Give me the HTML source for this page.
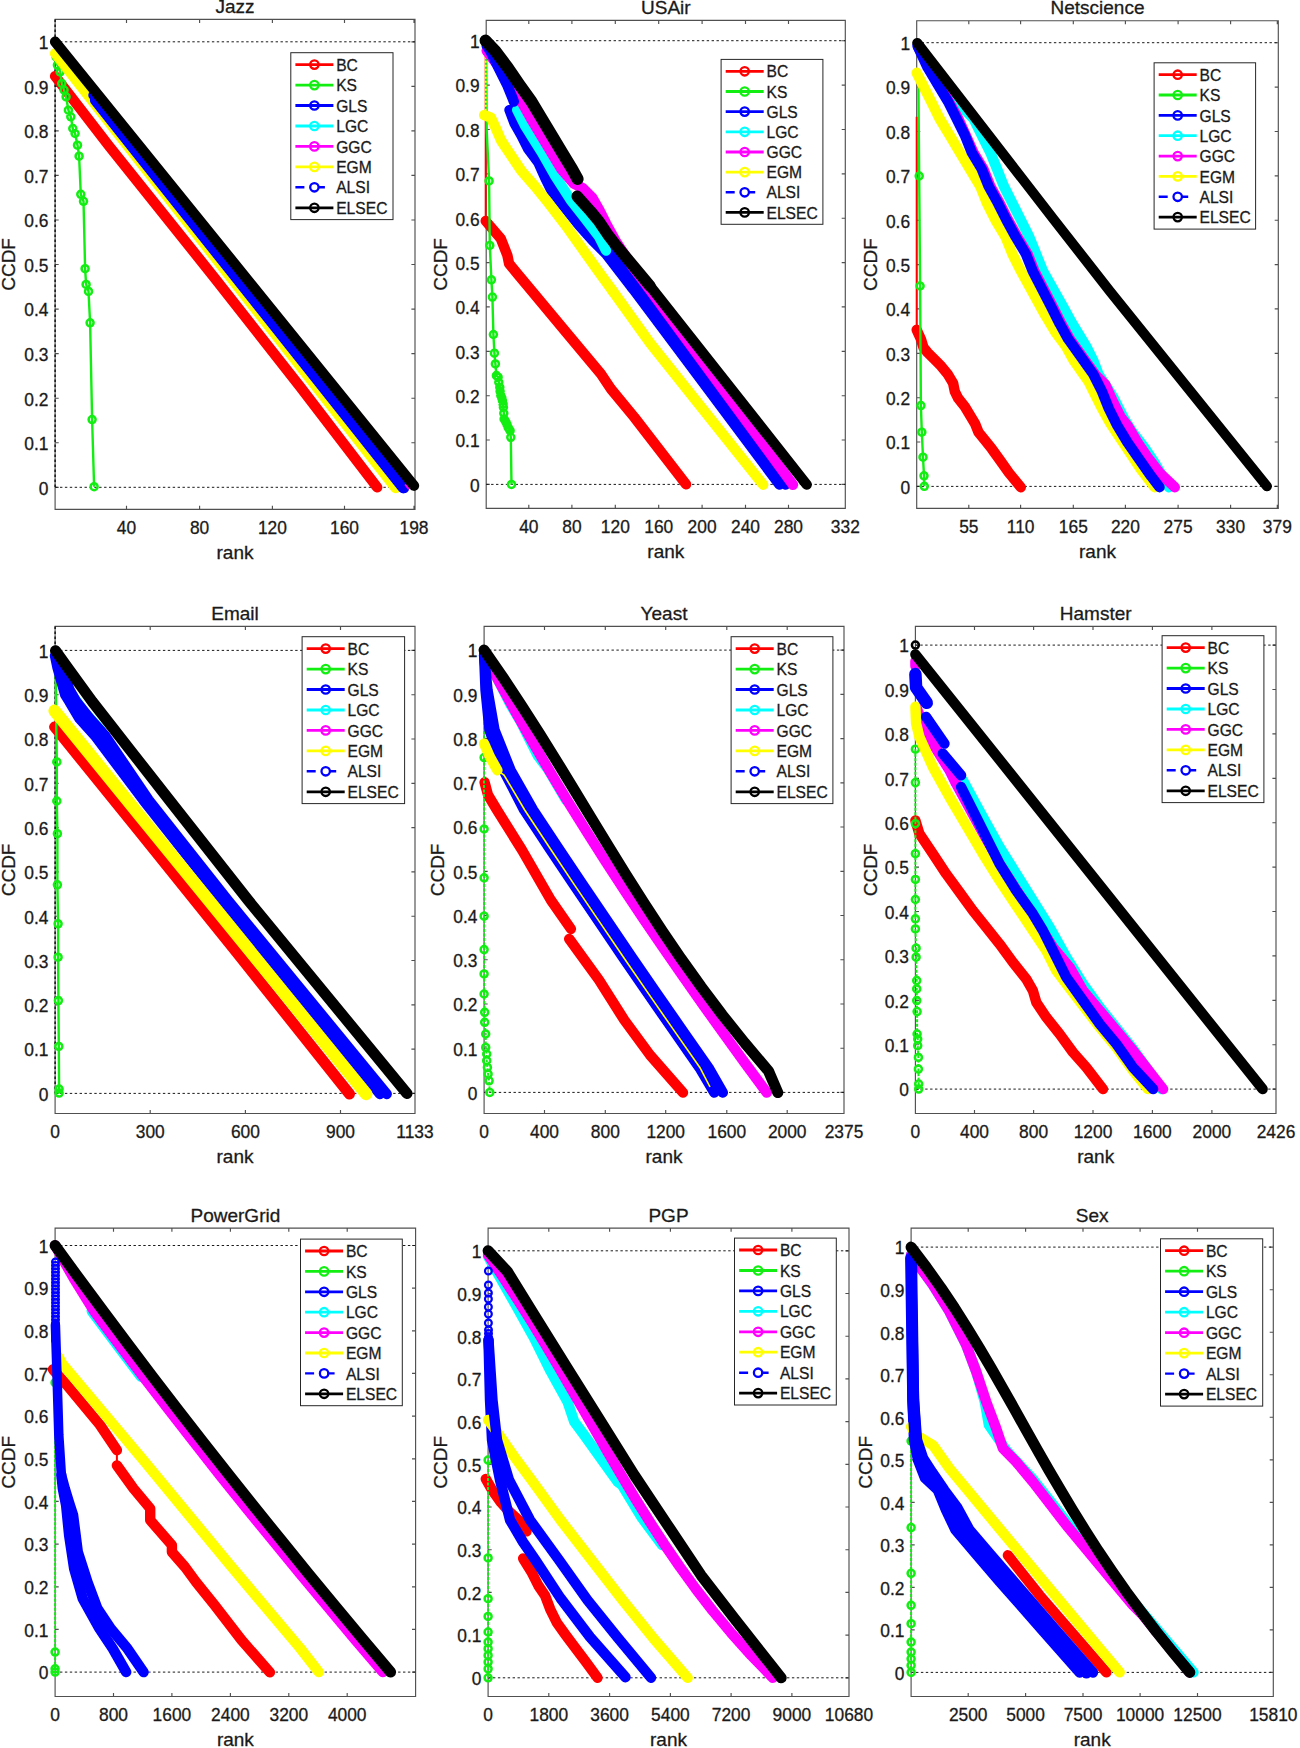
<!DOCTYPE html>
<html lang="en"><head><meta charset="utf-8"><title>CCDF of ranking methods on nine networks</title>
<style>
html,body{margin:0;padding:0;background:#fff}
svg{display:block}
text{font-family:"Liberation Sans",Arial,Helvetica,sans-serif;fill:#1a1a1a;stroke:#1a1a1a;stroke-width:0.3px}
.t{font-size:18.2px}.l{font-size:19px}.g{font-size:16.8px}
.m{text-anchor:middle}.e{text-anchor:end}
.ax{fill:none;stroke:#505050;stroke-width:1.15}
.dt{fill:none;stroke:#1a1a1a;stroke-width:1;stroke-dasharray:2.4 2.5}
.dv{fill:none;stroke:#000;stroke-width:1.3;stroke-dasharray:2.6 2.4}
</style></head><body>
<svg width="1300" height="1748" viewBox="0 0 1300 1748">
<rect width="1300" height="1748" fill="#fff"/>
<g>
<path d="M55.1 19.4H415V509.4H55.1ZM126.5 509.4v-3.6 M126.5 19.4v3.6M199.6 509.4v-3.6 M199.6 19.4v3.6M272.4 509.4v-3.6 M272.4 19.4v3.6M344.5 509.4v-3.6 M344.5 19.4v3.6M414 509.4v-3.6 M414 19.4v3.6M55.1 487.3h3.6 M415 487.3h-3.6M55.1 442.7h3.6 M415 442.7h-3.6M55.1 398.2h3.6 M415 398.2h-3.6M55.1 353.6h3.6 M415 353.6h-3.6M55.1 309.1h3.6 M415 309.1h-3.6M55.1 264.5h3.6 M415 264.5h-3.6M55.1 220h3.6 M415 220h-3.6M55.1 175.4h3.6 M415 175.4h-3.6M55.1 130.9h3.6 M415 130.9h-3.6M55.1 86.3h3.6 M415 86.3h-3.6M55.1 41.8h3.6 M415 41.8h-3.6" class="ax"/>
<path d="M55.1 41.8H415 M55.1 487.3H415" class="dt"/>
<path d="M55.1 19.4V487.3" class="dv"/>
<polyline points="55.1,76.1 109.5,146.6 215,278.4 300.5,387.3 377.2,487.4" fill="none" stroke="#ff0000" stroke-width="10.4" stroke-linecap="round" stroke-linejoin="round"/>
<polyline points="56.1,56.8 57.4,65.1 60.1,71.8 61.8,83.5 64.1,90.1 66.1,96.8 68.4,110.2 70.8,116.8 72.8,128.5 75.1,133.5 77.5,145.2 79.1,156.2 80.8,194.3 83.5,201.3 85.1,268.7 86.1,284.4 88.5,291.4 90.1,322.8 92.1,419.6 94.1,486.7" fill="none" stroke="#12ee12" stroke-width="2.4" stroke-linejoin="round"/>
<path d="M52.6 56.8a3.5 3.5 0 1 0 7 0a3.5 3.5 0 1 0 -7 0M53.9 65.1a3.5 3.5 0 1 0 7 0a3.5 3.5 0 1 0 -7 0M56.6 71.8a3.5 3.5 0 1 0 7 0a3.5 3.5 0 1 0 -7 0M58.3 83.5a3.5 3.5 0 1 0 7 0a3.5 3.5 0 1 0 -7 0M60.6 90.1a3.5 3.5 0 1 0 7 0a3.5 3.5 0 1 0 -7 0M62.6 96.8a3.5 3.5 0 1 0 7 0a3.5 3.5 0 1 0 -7 0M64.9 110.2a3.5 3.5 0 1 0 7 0a3.5 3.5 0 1 0 -7 0M67.3 116.8a3.5 3.5 0 1 0 7 0a3.5 3.5 0 1 0 -7 0M69.3 128.5a3.5 3.5 0 1 0 7 0a3.5 3.5 0 1 0 -7 0M71.6 133.5a3.5 3.5 0 1 0 7 0a3.5 3.5 0 1 0 -7 0M74 145.2a3.5 3.5 0 1 0 7 0a3.5 3.5 0 1 0 -7 0M75.6 156.2a3.5 3.5 0 1 0 7 0a3.5 3.5 0 1 0 -7 0M77.3 194.3a3.5 3.5 0 1 0 7 0a3.5 3.5 0 1 0 -7 0M80 201.3a3.5 3.5 0 1 0 7 0a3.5 3.5 0 1 0 -7 0M81.6 268.7a3.5 3.5 0 1 0 7 0a3.5 3.5 0 1 0 -7 0M82.6 284.4a3.5 3.5 0 1 0 7 0a3.5 3.5 0 1 0 -7 0M85 291.4a3.5 3.5 0 1 0 7 0a3.5 3.5 0 1 0 -7 0M86.6 322.8a3.5 3.5 0 1 0 7 0a3.5 3.5 0 1 0 -7 0M88.6 419.6a3.5 3.5 0 1 0 7 0a3.5 3.5 0 1 0 -7 0M90.6 486.7a3.5 3.5 0 1 0 7 0a3.5 3.5 0 1 0 -7 0" fill="none" stroke="#12ee12" stroke-width="2.5"/>
<polyline points="55.1,53.4 395.6,488.1" fill="none" stroke="#ffff00" stroke-width="10.4" stroke-linecap="round" stroke-linejoin="round"/>
<polyline points="95.1,100.2 403,488.1" fill="none" stroke="#0000ff" stroke-width="10.4" stroke-linecap="round" stroke-linejoin="round"/>
<polyline points="93.5,95.1 404,488.1" fill="none" stroke="#0000ff" stroke-width="10.4" stroke-linecap="round" stroke-linejoin="round"/>
<polyline points="405.6,484.1 409.3,488.8" fill="none" stroke="#ff00ff" stroke-width="3"/>
<polyline points="55.1,41.7 414,485.7" fill="none" stroke="#000000" stroke-width="10.4" stroke-linecap="round" stroke-linejoin="round"/>
<text transform="translate(126.5 534.3) scale(0.955 1)" class="t m">40</text>
<text transform="translate(199.6 534.3) scale(0.955 1)" class="t m">80</text>
<text transform="translate(272.4 534.3) scale(0.955 1)" class="t m">120</text>
<text transform="translate(344.5 534.3) scale(0.955 1)" class="t m">160</text>
<text transform="translate(414 534.3) scale(0.955 1)" class="t m">198</text>
<text transform="translate(48.5 494.6) scale(0.955 1)" class="t e">0</text>
<text transform="translate(48.5 450) scale(0.955 1)" class="t e">0.1</text>
<text transform="translate(48.5 405.5) scale(0.955 1)" class="t e">0.2</text>
<text transform="translate(48.5 360.9) scale(0.955 1)" class="t e">0.3</text>
<text transform="translate(48.5 316.4) scale(0.955 1)" class="t e">0.4</text>
<text transform="translate(48.5 271.8) scale(0.955 1)" class="t e">0.5</text>
<text transform="translate(48.5 227.3) scale(0.955 1)" class="t e">0.6</text>
<text transform="translate(48.5 182.7) scale(0.955 1)" class="t e">0.7</text>
<text transform="translate(48.5 138.2) scale(0.955 1)" class="t e">0.8</text>
<text transform="translate(48.5 93.6) scale(0.955 1)" class="t e">0.9</text>
<text transform="translate(48.5 49.1) scale(0.955 1)" class="t e">1</text>
<text x="235" y="558.9" class="l m">rank</text>
<text transform="translate(15 264.4) rotate(-90)" class="l m">CCDF</text>
<text x="235" y="12.9" class="l m">Jazz</text>
<rect x="290.8" y="52.7" width="102.2" height="166.9" fill="#fff" stroke="#262626" stroke-width="1"/>
<path d="M295.4 64.6H333.4" stroke="#ff0000" stroke-width="2.8" fill="none"/>
<circle cx="314.4" cy="64.6" r="4.2" fill="none" stroke="#ff0000" stroke-width="2.3"/>
<text transform="translate(336.2 70.7) scale(0.93 1)" class="g">BC</text>
<path d="M295.4 85.1H333.4" stroke="#12ee12" stroke-width="2.8" fill="none"/>
<circle cx="314.4" cy="85.1" r="4.2" fill="none" stroke="#12ee12" stroke-width="2.3"/>
<text transform="translate(336.2 91.2) scale(0.93 1)" class="g">KS</text>
<path d="M295.4 105.5H333.4" stroke="#0000ff" stroke-width="2.8" fill="none"/>
<circle cx="314.4" cy="105.5" r="4.2" fill="none" stroke="#0000ff" stroke-width="2.3"/>
<text transform="translate(336.2 111.6) scale(0.93 1)" class="g">GLS</text>
<path d="M295.4 126H333.4" stroke="#00ffff" stroke-width="2.8" fill="none"/>
<circle cx="314.4" cy="126" r="4.2" fill="none" stroke="#00ffff" stroke-width="2.3"/>
<text transform="translate(336.2 132.1) scale(0.93 1)" class="g">LGC</text>
<path d="M295.4 146.4H333.4" stroke="#ff00ff" stroke-width="2.8" fill="none"/>
<circle cx="314.4" cy="146.4" r="4.2" fill="none" stroke="#ff00ff" stroke-width="2.3"/>
<text transform="translate(336.2 152.5) scale(0.93 1)" class="g">GGC</text>
<path d="M295.4 166.9H333.4" stroke="#ffff00" stroke-width="2.8" fill="none"/>
<circle cx="314.4" cy="166.9" r="4.2" fill="none" stroke="#ffff00" stroke-width="2.3"/>
<text transform="translate(336.2 173) scale(0.93 1)" class="g">EGM</text>
<path d="M295.4 187.3h9 M317.9 187.3h7" stroke="#0000ff" stroke-width="2.4" fill="none"/>
<circle cx="314.4" cy="187.3" r="4.2" fill="none" stroke="#0000ff" stroke-width="2.3"/>
<text transform="translate(336.2 193.4) scale(0.93 1)" class="g">ALSI</text>
<path d="M295.4 207.8H333.4" stroke="#000000" stroke-width="2.8" fill="none"/>
<circle cx="314.4" cy="207.8" r="4.2" fill="none" stroke="#000000" stroke-width="2.3"/>
<text transform="translate(336.2 213.9) scale(0.93 1)" class="g">ELSEC</text>
</g>
<g>
<path d="M486.2 20.4H845.3V508.4H486.2ZM528.8 508.4v-3.6 M528.8 20.4v3.6M571.9 508.4v-3.6 M571.9 20.4v3.6M615.3 508.4v-3.6 M615.3 20.4v3.6M658.7 508.4v-3.6 M658.7 20.4v3.6M702.1 508.4v-3.6 M702.1 20.4v3.6M745.5 508.4v-3.6 M745.5 20.4v3.6M788.5 508.4v-3.6 M788.5 20.4v3.6M845.3 508.4v-3.6 M845.3 20.4v3.6M486.2 484.4h3.6 M845.3 484.4h-3.6M486.2 440h3.6 M845.3 440h-3.6M486.2 395.7h3.6 M845.3 395.7h-3.6M486.2 351.3h3.6 M845.3 351.3h-3.6M486.2 306.9h3.6 M845.3 306.9h-3.6M486.2 262.6h3.6 M845.3 262.6h-3.6M486.2 218.2h3.6 M845.3 218.2h-3.6M486.2 173.8h3.6 M845.3 173.8h-3.6M486.2 129.5h3.6 M845.3 129.5h-3.6M486.2 85.1h3.6 M845.3 85.1h-3.6M486.2 40.7h3.6 M845.3 40.7h-3.6" class="ax"/>
<path d="M486.2 40.7H845.3 M486.2 484.4H845.3" class="dt"/>
<polyline points="485.7,40.7 485.7,221" fill="none" stroke="#ff0000" stroke-width="2"/>
<polyline points="485.7,221 500.8,238.7 507.4,255.4 509.1,263.7 517.5,273.8 534.2,293.8 567.5,333.8 600.9,373.9 610.9,388.9 634.3,417.3 686.1,484.4" fill="none" stroke="#ff0000" stroke-width="10.4" stroke-linecap="round" stroke-linejoin="round"/>
<polyline points="486.1,40.7 486.7,130.2 489.1,180.9 489.8,245.4 491.4,279.8 492.4,297.1 493.4,334.5 494.4,353.2 495.4,363.9 496.4,375.6 498.1,377.2 498.8,382.3 499.8,387.3 500.1,391.3 500.8,395.6 501.8,397.9 502.4,400.6 503.1,404 503.4,407.3 503.8,413.3 504.1,419 505.1,420.6 506.1,422.3 507.1,424.7 508.1,427.3 509.1,429 510.1,430.7 510.8,437.3 511.5,484.4" fill="none" stroke="#12ee12" stroke-width="2.4" stroke-linejoin="round"/>
<path d="M485.6 180.9a3.5 3.5 0 1 0 7 0a3.5 3.5 0 1 0 -7 0M486.3 245.4a3.5 3.5 0 1 0 7 0a3.5 3.5 0 1 0 -7 0M487.9 279.8a3.5 3.5 0 1 0 7 0a3.5 3.5 0 1 0 -7 0M488.9 297.1a3.5 3.5 0 1 0 7 0a3.5 3.5 0 1 0 -7 0M489.9 334.5a3.5 3.5 0 1 0 7 0a3.5 3.5 0 1 0 -7 0M490.9 353.2a3.5 3.5 0 1 0 7 0a3.5 3.5 0 1 0 -7 0M491.9 363.9a3.5 3.5 0 1 0 7 0a3.5 3.5 0 1 0 -7 0M492.9 375.6a3.5 3.5 0 1 0 7 0a3.5 3.5 0 1 0 -7 0M494.6 377.2a3.5 3.5 0 1 0 7 0a3.5 3.5 0 1 0 -7 0M495.3 382.3a3.5 3.5 0 1 0 7 0a3.5 3.5 0 1 0 -7 0M496.3 387.3a3.5 3.5 0 1 0 7 0a3.5 3.5 0 1 0 -7 0M496.6 391.3a3.5 3.5 0 1 0 7 0a3.5 3.5 0 1 0 -7 0M497.3 395.6a3.5 3.5 0 1 0 7 0a3.5 3.5 0 1 0 -7 0M498.3 397.9a3.5 3.5 0 1 0 7 0a3.5 3.5 0 1 0 -7 0M498.9 400.6a3.5 3.5 0 1 0 7 0a3.5 3.5 0 1 0 -7 0M499.6 404a3.5 3.5 0 1 0 7 0a3.5 3.5 0 1 0 -7 0M499.9 407.3a3.5 3.5 0 1 0 7 0a3.5 3.5 0 1 0 -7 0M500.3 413.3a3.5 3.5 0 1 0 7 0a3.5 3.5 0 1 0 -7 0M500.6 419a3.5 3.5 0 1 0 7 0a3.5 3.5 0 1 0 -7 0M501.6 420.6a3.5 3.5 0 1 0 7 0a3.5 3.5 0 1 0 -7 0M502.6 422.3a3.5 3.5 0 1 0 7 0a3.5 3.5 0 1 0 -7 0M503.6 424.7a3.5 3.5 0 1 0 7 0a3.5 3.5 0 1 0 -7 0M504.6 427.3a3.5 3.5 0 1 0 7 0a3.5 3.5 0 1 0 -7 0M505.6 429a3.5 3.5 0 1 0 7 0a3.5 3.5 0 1 0 -7 0M506.6 430.7a3.5 3.5 0 1 0 7 0a3.5 3.5 0 1 0 -7 0M507.3 437.3a3.5 3.5 0 1 0 7 0a3.5 3.5 0 1 0 -7 0M508 484.4a3.5 3.5 0 1 0 7 0a3.5 3.5 0 1 0 -7 0" fill="none" stroke="#12ee12" stroke-width="2.5"/>
<polyline points="485.7,40.7 485.7,115.2" fill="none" stroke="#ffff00" stroke-width="2" stroke-dasharray="2 2"/>
<polyline points="509.5,110 514.6,123.5 521.4,135.4 528.2,148.9 538.3,162.5 545.1,177.7 551.8,191.2 565.4,208.2 578.9,225.1 592.5,240.3 606,253.8 632.2,287.7" fill="none" stroke="#0000ff" stroke-width="10.4" stroke-linecap="round" stroke-linejoin="round"/>
<polyline points="513.8,110 518.8,123.5 525.6,135.4 532.4,148.9 542.5,162.5 549.3,177.7 556.1,191.2 569.6,208.2 583.2,225.1 596.7,240.3 610.2,253.8 637.3,287.7" fill="none" stroke="#0000ff" stroke-width="10.4" stroke-linecap="round" stroke-linejoin="round"/>
<polyline points="632.2,287.7 779.5,484.6" fill="none" stroke="#0000ff" stroke-width="10.4" stroke-linecap="round" stroke-linejoin="round"/>
<polyline points="637.3,287.7 785.5,484.6" fill="none" stroke="#0000ff" stroke-width="10.4" stroke-linecap="round" stroke-linejoin="round"/>
<polyline points="517.2,110 524.8,125.2 533.2,138.8 541.7,152.3 555.2,176 570.5,199.7 582.3,214.9 599.2,236.9 606,250.5" fill="none" stroke="#00ffff" stroke-width="10.4" stroke-linecap="round" stroke-linejoin="round"/>
<polyline points="486.7,50.8 497.7,65.2 510.6,84.6 521.4,101.5 530.9,118.5 541,135.4 551.2,152.3 561.3,169.2 573.8,183.6 582.3,187.8 592.5,198 599.2,209.8 606,223.4 616.2,242 633.1,267.4 648.3,287.7" fill="none" stroke="#ff00ff" stroke-width="10.4" stroke-linecap="round" stroke-linejoin="round"/>
<polyline points="648.3,287.7 793,484.8" fill="none" stroke="#ff00ff" stroke-width="10.4" stroke-linecap="round" stroke-linejoin="round"/>
<polyline points="484.2,115.1 490.9,117.6 496,128.6 501.1,140.5 511.2,155.7 521.4,170.9 534.9,186.2 548.5,203.1 565.4,225.1 582.3,248.8 599.2,272.5 612.8,291.1" fill="none" stroke="#ffff00" stroke-width="10.4" stroke-linecap="round" stroke-linejoin="round"/>
<polyline points="612.8,291.1 650,343 763.2,484.8" fill="none" stroke="#ffff00" stroke-width="10.4" stroke-linecap="round" stroke-linejoin="round"/>
<polyline points="486.7,45.7 490.1,50.8 498.5,67.7 507,84.6 512.6,98.2 513.8,101.5" fill="none" stroke="#0000ff" stroke-width="10.4" stroke-linecap="round" stroke-linejoin="round"/>
<polyline points="485.5,40.6 495.2,50.8 507.8,67.7 519.4,84.6 531.5,101.5 541.7,118.5 551.8,135.4 562,152.3 572.2,169.2 577.6,179" fill="none" stroke="#000000" stroke-width="12" stroke-linecap="round" stroke-linejoin="round"/>
<polyline points="577.2,196.3 590.8,211.5 599.2,221.7 607.7,234.4 616.2,245.4 650,286" fill="none" stroke="#000000" stroke-width="11.5" stroke-linecap="round" stroke-linejoin="round"/>
<polyline points="650,286 806.7,484.6" fill="none" stroke="#000000" stroke-width="10.4" stroke-linecap="round" stroke-linejoin="round"/>
<text transform="translate(528.8 533.3) scale(0.955 1)" class="t m">40</text>
<text transform="translate(571.9 533.3) scale(0.955 1)" class="t m">80</text>
<text transform="translate(615.3 533.3) scale(0.955 1)" class="t m">120</text>
<text transform="translate(658.7 533.3) scale(0.955 1)" class="t m">160</text>
<text transform="translate(702.1 533.3) scale(0.955 1)" class="t m">200</text>
<text transform="translate(745.5 533.3) scale(0.955 1)" class="t m">240</text>
<text transform="translate(788.5 533.3) scale(0.955 1)" class="t m">280</text>
<text transform="translate(845.3 533.3) scale(0.955 1)" class="t m">332</text>
<text transform="translate(479.6 491.7) scale(0.955 1)" class="t e">0</text>
<text transform="translate(479.6 447.3) scale(0.955 1)" class="t e">0.1</text>
<text transform="translate(479.6 403) scale(0.955 1)" class="t e">0.2</text>
<text transform="translate(479.6 358.6) scale(0.955 1)" class="t e">0.3</text>
<text transform="translate(479.6 314.2) scale(0.955 1)" class="t e">0.4</text>
<text transform="translate(479.6 269.9) scale(0.955 1)" class="t e">0.5</text>
<text transform="translate(479.6 225.5) scale(0.955 1)" class="t e">0.6</text>
<text transform="translate(479.6 181.1) scale(0.955 1)" class="t e">0.7</text>
<text transform="translate(479.6 136.8) scale(0.955 1)" class="t e">0.8</text>
<text transform="translate(479.6 92.4) scale(0.955 1)" class="t e">0.9</text>
<text transform="translate(479.6 48) scale(0.955 1)" class="t e">1</text>
<text x="665.8" y="557.9" class="l m">rank</text>
<text transform="translate(446.7 264.4) rotate(-90)" class="l m">CCDF</text>
<text x="665.8" y="13.9" class="l m">USAir</text>
<rect x="721.1" y="59.4" width="101.8" height="164.9" fill="#fff" stroke="#262626" stroke-width="1"/>
<path d="M725.7 71.3H763.7" stroke="#ff0000" stroke-width="2.8" fill="none"/>
<circle cx="744.7" cy="71.3" r="4.2" fill="none" stroke="#ff0000" stroke-width="2.3"/>
<text transform="translate(766.5 77.4) scale(0.93 1)" class="g">BC</text>
<path d="M725.7 91.5H763.7" stroke="#12ee12" stroke-width="2.8" fill="none"/>
<circle cx="744.7" cy="91.5" r="4.2" fill="none" stroke="#12ee12" stroke-width="2.3"/>
<text transform="translate(766.5 97.6) scale(0.93 1)" class="g">KS</text>
<path d="M725.7 111.6H763.7" stroke="#0000ff" stroke-width="2.8" fill="none"/>
<circle cx="744.7" cy="111.6" r="4.2" fill="none" stroke="#0000ff" stroke-width="2.3"/>
<text transform="translate(766.5 117.7) scale(0.93 1)" class="g">GLS</text>
<path d="M725.7 131.8H763.7" stroke="#00ffff" stroke-width="2.8" fill="none"/>
<circle cx="744.7" cy="131.8" r="4.2" fill="none" stroke="#00ffff" stroke-width="2.3"/>
<text transform="translate(766.5 137.9) scale(0.93 1)" class="g">LGC</text>
<path d="M725.7 152H763.7" stroke="#ff00ff" stroke-width="2.8" fill="none"/>
<circle cx="744.7" cy="152" r="4.2" fill="none" stroke="#ff00ff" stroke-width="2.3"/>
<text transform="translate(766.5 158.1) scale(0.93 1)" class="g">GGC</text>
<path d="M725.7 172.1H763.7" stroke="#ffff00" stroke-width="2.8" fill="none"/>
<circle cx="744.7" cy="172.1" r="4.2" fill="none" stroke="#ffff00" stroke-width="2.3"/>
<text transform="translate(766.5 178.2) scale(0.93 1)" class="g">EGM</text>
<path d="M725.7 192.3h9 M748.2 192.3h7" stroke="#0000ff" stroke-width="2.4" fill="none"/>
<circle cx="744.7" cy="192.3" r="4.2" fill="none" stroke="#0000ff" stroke-width="2.3"/>
<text transform="translate(766.5 198.4) scale(0.93 1)" class="g">ALSI</text>
<path d="M725.7 212.4H763.7" stroke="#000000" stroke-width="2.8" fill="none"/>
<circle cx="744.7" cy="212.4" r="4.2" fill="none" stroke="#000000" stroke-width="2.3"/>
<text transform="translate(766.5 218.5) scale(0.93 1)" class="g">ELSEC</text>
</g>
<g>
<path d="M916.7 20.7H1278.3V508.4H916.7ZM968.8 508.4v-3.6 M968.8 20.7v3.6M1020.6 508.4v-3.6 M1020.6 20.7v3.6M1073.3 508.4v-3.6 M1073.3 20.7v3.6M1125.4 508.4v-3.6 M1125.4 20.7v3.6M1178.1 508.4v-3.6 M1178.1 20.7v3.6M1230.6 508.4v-3.6 M1230.6 20.7v3.6M1277.3 508.4v-3.6 M1277.3 20.7v3.6M916.7 486.4h3.6 M1278.3 486.4h-3.6M916.7 442h3.6 M1278.3 442h-3.6M916.7 397.7h3.6 M1278.3 397.7h-3.6M916.7 353.3h3.6 M1278.3 353.3h-3.6M916.7 308.9h3.6 M1278.3 308.9h-3.6M916.7 264.6h3.6 M1278.3 264.6h-3.6M916.7 220.2h3.6 M1278.3 220.2h-3.6M916.7 175.8h3.6 M1278.3 175.8h-3.6M916.7 131.5h3.6 M1278.3 131.5h-3.6M916.7 87.1h3.6 M1278.3 87.1h-3.6M916.7 42.7h3.6 M1278.3 42.7h-3.6" class="ax"/>
<path d="M916.7 42.7H1278.3 M916.7 486.4H1278.3" class="dt"/>
<polyline points="916.7,329.8 920.9,339.1 923.5,347.5 927.7,352.6 934.5,359.4 941.2,366.2 948,374.6 953.1,383.1 954.8,391.5 958.2,398.3 964.9,406.8 970,415.2 975.1,423.7 978.5,432.2 985.2,440.6 992,449.1 1000.5,460.9 1008.9,472.8 1020.8,487.2" fill="none" stroke="#ff0000" stroke-width="10.4" stroke-linecap="round" stroke-linejoin="round"/>
<polyline points="916.7,116.8 916.7,328.8" fill="none" stroke="#ff0000" stroke-width="2"/>
<polyline points="918.4,84.6 919.2,176 920.1,286 920.9,405.6 921.8,432.2 923,457.2 924,475.8 924.3,486.3" fill="none" stroke="#12ee12" stroke-width="2.4" stroke-linejoin="round"/>
<path d="M915.7 176a3.5 3.5 0 1 0 7 0a3.5 3.5 0 1 0 -7 0M916.6 286a3.5 3.5 0 1 0 7 0a3.5 3.5 0 1 0 -7 0M917.4 405.6a3.5 3.5 0 1 0 7 0a3.5 3.5 0 1 0 -7 0M918.3 432.2a3.5 3.5 0 1 0 7 0a3.5 3.5 0 1 0 -7 0M919.5 457.2a3.5 3.5 0 1 0 7 0a3.5 3.5 0 1 0 -7 0M920.5 475.8a3.5 3.5 0 1 0 7 0a3.5 3.5 0 1 0 -7 0M920.8 486.3a3.5 3.5 0 1 0 7 0a3.5 3.5 0 1 0 -7 0" fill="none" stroke="#12ee12" stroke-width="2.5"/>
<polyline points="918.4,47.4 949.7,94.8 973.4,118.5 981.8,135.4 990.3,152.3 997.1,169.2 1003.8,186.2 1012.3,203.1 1020.8,220 1029.2,236.9 1036,253.8 1042.8,270.8 1063.1,306.9 1071.5,322.2 1086.8,347.5 1093.5,361.1 1098.6,374.6 1105.4,384.8 1113.8,398.3 1124,418.6 1132.5,432.2 1144.3,447.4 1154.5,462.6 1168.8,487.2" fill="none" stroke="#00ffff" stroke-width="10.4" stroke-linecap="round" stroke-linejoin="round"/>
<polyline points="918.4,47.4 939.5,84.6 958.2,118.5 973.4,152.3 983.5,169.2 990.3,186.2 999.6,203.1 1008.1,220 1017.4,236.9 1027.5,253.8 1034.3,270.8 1052.9,306.9 1061.4,323.8 1069.8,339.1 1095.2,374.6 1105.4,384.8 1112.2,400 1120.6,416.9 1127.4,425.4 1137.5,442.3 1147.7,457.5 1159.5,472.8 1174.8,487.2" fill="none" stroke="#ff00ff" stroke-width="10.4" stroke-linecap="round" stroke-linejoin="round"/>
<polyline points="916.7,72.8 922.6,84.6 931.1,101.5 939.5,118.5 949.7,135.4 959.8,152.3 970,169.2 980.2,186.2 986.9,203.1 995.4,220 1005.5,236.9 1012.3,253.8 1020.8,270.8 1045.3,315.4 1055.5,332.3 1065.6,345.8 1074.1,361.1 1088.5,381.4 1095.2,394.9 1102,408.5 1110.5,423.7 1120.6,438.9 1130.8,454.2 1140.9,469.4 1154.5,487.2" fill="none" stroke="#ffff00" stroke-width="10.4" stroke-linecap="round" stroke-linejoin="round"/>
<polyline points="917.5,45.7 927.7,67.7 937.8,84.6 948,101.5 956.5,118.5 964.9,135.4 971.7,152.3 981.8,169.2 988.6,186.2 997.9,203.1 1006.4,220 1015.7,236.9 1025.8,253.8 1032.6,270.8 1051.2,306.9 1059.7,323.8 1068.2,339.1 1093.5,374.6 1102,391.5 1108.8,408.5 1117.2,425.4 1127.4,442.3 1139.2,459.2 1151.1,476.2 1159.5,487.2" fill="none" stroke="#0000ff" stroke-width="10.4" stroke-linecap="round" stroke-linejoin="round"/>
<polyline points="917.2,42.9 1054.2,220 1110,291.3 1267,486.3" fill="none" stroke="#000000" stroke-width="10" stroke-linecap="round" stroke-linejoin="round"/>
<text transform="translate(968.8 533.3) scale(0.955 1)" class="t m">55</text>
<text transform="translate(1020.6 533.3) scale(0.955 1)" class="t m">110</text>
<text transform="translate(1073.3 533.3) scale(0.955 1)" class="t m">165</text>
<text transform="translate(1125.4 533.3) scale(0.955 1)" class="t m">220</text>
<text transform="translate(1178.1 533.3) scale(0.955 1)" class="t m">275</text>
<text transform="translate(1230.6 533.3) scale(0.955 1)" class="t m">330</text>
<text transform="translate(1277.3 533.3) scale(0.955 1)" class="t m">379</text>
<text transform="translate(910.1 493.7) scale(0.955 1)" class="t e">0</text>
<text transform="translate(910.1 449.3) scale(0.955 1)" class="t e">0.1</text>
<text transform="translate(910.1 405) scale(0.955 1)" class="t e">0.2</text>
<text transform="translate(910.1 360.6) scale(0.955 1)" class="t e">0.3</text>
<text transform="translate(910.1 316.2) scale(0.955 1)" class="t e">0.4</text>
<text transform="translate(910.1 271.9) scale(0.955 1)" class="t e">0.5</text>
<text transform="translate(910.1 227.5) scale(0.955 1)" class="t e">0.6</text>
<text transform="translate(910.1 183.1) scale(0.955 1)" class="t e">0.7</text>
<text transform="translate(910.1 138.8) scale(0.955 1)" class="t e">0.8</text>
<text transform="translate(910.1 94.4) scale(0.955 1)" class="t e">0.9</text>
<text transform="translate(910.1 50) scale(0.955 1)" class="t e">1</text>
<text x="1097.5" y="557.9" class="l m">rank</text>
<text transform="translate(876.7 264.6) rotate(-90)" class="l m">CCDF</text>
<text x="1097.5" y="14.2" class="l m">Netscience</text>
<rect x="1154.1" y="62.8" width="101.5" height="166.3" fill="#fff" stroke="#262626" stroke-width="1"/>
<path d="M1158.7 74.7H1196.7" stroke="#ff0000" stroke-width="2.8" fill="none"/>
<circle cx="1177.7" cy="74.7" r="4.2" fill="none" stroke="#ff0000" stroke-width="2.3"/>
<text transform="translate(1199.5 80.8) scale(0.93 1)" class="g">BC</text>
<path d="M1158.7 95H1196.7" stroke="#12ee12" stroke-width="2.8" fill="none"/>
<circle cx="1177.7" cy="95" r="4.2" fill="none" stroke="#12ee12" stroke-width="2.3"/>
<text transform="translate(1199.5 101.1) scale(0.93 1)" class="g">KS</text>
<path d="M1158.7 115.4H1196.7" stroke="#0000ff" stroke-width="2.8" fill="none"/>
<circle cx="1177.7" cy="115.4" r="4.2" fill="none" stroke="#0000ff" stroke-width="2.3"/>
<text transform="translate(1199.5 121.5) scale(0.93 1)" class="g">GLS</text>
<path d="M1158.7 135.7H1196.7" stroke="#00ffff" stroke-width="2.8" fill="none"/>
<circle cx="1177.7" cy="135.7" r="4.2" fill="none" stroke="#00ffff" stroke-width="2.3"/>
<text transform="translate(1199.5 141.8) scale(0.93 1)" class="g">LGC</text>
<path d="M1158.7 156.1H1196.7" stroke="#ff00ff" stroke-width="2.8" fill="none"/>
<circle cx="1177.7" cy="156.1" r="4.2" fill="none" stroke="#ff00ff" stroke-width="2.3"/>
<text transform="translate(1199.5 162.2) scale(0.93 1)" class="g">GGC</text>
<path d="M1158.7 176.4H1196.7" stroke="#ffff00" stroke-width="2.8" fill="none"/>
<circle cx="1177.7" cy="176.4" r="4.2" fill="none" stroke="#ffff00" stroke-width="2.3"/>
<text transform="translate(1199.5 182.5) scale(0.93 1)" class="g">EGM</text>
<path d="M1158.7 196.8h9 M1181.2 196.8h7" stroke="#0000ff" stroke-width="2.4" fill="none"/>
<circle cx="1177.7" cy="196.8" r="4.2" fill="none" stroke="#0000ff" stroke-width="2.3"/>
<text transform="translate(1199.5 202.9) scale(0.93 1)" class="g">ALSI</text>
<path d="M1158.7 217.1H1196.7" stroke="#000000" stroke-width="2.8" fill="none"/>
<circle cx="1177.7" cy="217.1" r="4.2" fill="none" stroke="#000000" stroke-width="2.3"/>
<text transform="translate(1199.5 223.2) scale(0.93 1)" class="g">ELSEC</text>
</g>
<g>
<path d="M55.1 626.4H415V1113.5H55.1ZM55.1 1113.5v-3.6 M55.1 626.4v3.6M150.2 1113.5v-3.6 M150.2 626.4v3.6M245.4 1113.5v-3.6 M245.4 626.4v3.6M340.5 1113.5v-3.6 M340.5 626.4v3.6M415 1113.5v-3.6 M415 626.4v3.6M55.1 1093.4h3.6 M415 1093.4h-3.6M55.1 1049.1h3.6 M415 1049.1h-3.6M55.1 1004.8h3.6 M415 1004.8h-3.6M55.1 960.5h3.6 M415 960.5h-3.6M55.1 916.2h3.6 M415 916.2h-3.6M55.1 871.9h3.6 M415 871.9h-3.6M55.1 827.6h3.6 M415 827.6h-3.6M55.1 783.3h3.6 M415 783.3h-3.6M55.1 739h3.6 M415 739h-3.6M55.1 694.7h3.6 M415 694.7h-3.6M55.1 650.4h3.6 M415 650.4h-3.6" class="ax"/>
<path d="M55.1 650.4H415 M55.1 1093.4H415" class="dt"/>
<path d="M55.1 626.4V1093.4" class="dv"/>
<polyline points="54.6,726.9 140,832.2 238,954 349.5,1094" fill="none" stroke="#ff0000" stroke-width="11" stroke-linecap="round" stroke-linejoin="round"/>
<polyline points="55.4,650.8 56.8,761.9 56.8,801 57.4,833.7 57.4,884.8 58.1,923.8 58.1,957.2 58.4,1000.6 58.8,1046.4 59.1,1089.1 59.1,1093.1" fill="none" stroke="#12ee12" stroke-width="2.4" stroke-linejoin="round"/>
<path d="M53.3 761.9a3.5 3.5 0 1 0 7 0a3.5 3.5 0 1 0 -7 0M53.3 801a3.5 3.5 0 1 0 7 0a3.5 3.5 0 1 0 -7 0M53.9 833.7a3.5 3.5 0 1 0 7 0a3.5 3.5 0 1 0 -7 0M53.9 884.8a3.5 3.5 0 1 0 7 0a3.5 3.5 0 1 0 -7 0M54.6 923.8a3.5 3.5 0 1 0 7 0a3.5 3.5 0 1 0 -7 0M54.6 957.2a3.5 3.5 0 1 0 7 0a3.5 3.5 0 1 0 -7 0M54.9 1000.6a3.5 3.5 0 1 0 7 0a3.5 3.5 0 1 0 -7 0M55.3 1046.4a3.5 3.5 0 1 0 7 0a3.5 3.5 0 1 0 -7 0M55.6 1089.1a3.5 3.5 0 1 0 7 0a3.5 3.5 0 1 0 -7 0M55.6 1093.1a3.5 3.5 0 1 0 7 0a3.5 3.5 0 1 0 -7 0" fill="none" stroke="#12ee12" stroke-width="2.5"/>
<polyline points="55,655.8 57.5,667.7 61.3,681.2 65.2,694.8 69.4,701.5 79.5,718.5 94.8,735.4 143.3,800 222.3,900 379.9,1094" fill="none" stroke="#0000ff" stroke-width="10.4" stroke-linecap="round" stroke-linejoin="round"/>
<polyline points="74.5,691.4 88,710 104.9,728.6" fill="none" stroke="#00ffff" stroke-width="2"/>
<polyline points="54.6,710.8 140.5,816.6 208.5,900 366.2,1094" fill="none" stroke="#ffff00" stroke-width="12.4" stroke-linecap="round" stroke-linejoin="round"/>
<polyline points="56.7,657.5 59.2,667.7 65.2,676.2 69.4,689.7 76.2,701.5 89.7,718.5 104.9,735.4 148.6,800 227.6,900 386.7,1094" fill="none" stroke="#0000ff" stroke-width="10.4" stroke-linecap="round" stroke-linejoin="round"/>
<polyline points="55.5,650.8 67.7,667.7 92.2,701.5 132,752.3 169.3,800 248,900 407,1093.6" fill="none" stroke="#000000" stroke-width="11" stroke-linecap="round" stroke-linejoin="round"/>
<text transform="translate(55.1 1138.4) scale(0.955 1)" class="t m">0</text>
<text transform="translate(150.2 1138.4) scale(0.955 1)" class="t m">300</text>
<text transform="translate(245.4 1138.4) scale(0.955 1)" class="t m">600</text>
<text transform="translate(340.5 1138.4) scale(0.955 1)" class="t m">900</text>
<text transform="translate(415 1138.4) scale(0.955 1)" class="t m">1133</text>
<text transform="translate(48.5 1100.7) scale(0.955 1)" class="t e">0</text>
<text transform="translate(48.5 1056.4) scale(0.955 1)" class="t e">0.1</text>
<text transform="translate(48.5 1012.1) scale(0.955 1)" class="t e">0.2</text>
<text transform="translate(48.5 967.8) scale(0.955 1)" class="t e">0.3</text>
<text transform="translate(48.5 923.5) scale(0.955 1)" class="t e">0.4</text>
<text transform="translate(48.5 879.2) scale(0.955 1)" class="t e">0.5</text>
<text transform="translate(48.5 834.9) scale(0.955 1)" class="t e">0.6</text>
<text transform="translate(48.5 790.6) scale(0.955 1)" class="t e">0.7</text>
<text transform="translate(48.5 746.3) scale(0.955 1)" class="t e">0.8</text>
<text transform="translate(48.5 702) scale(0.955 1)" class="t e">0.9</text>
<text transform="translate(48.5 657.7) scale(0.955 1)" class="t e">1</text>
<text x="235" y="1163" class="l m">rank</text>
<text transform="translate(15 869.9) rotate(-90)" class="l m">CCDF</text>
<text x="235" y="619.9" class="l m">Email</text>
<rect x="302.1" y="636.7" width="102.5" height="166.9" fill="#fff" stroke="#262626" stroke-width="1"/>
<path d="M306.7 648.6H344.7" stroke="#ff0000" stroke-width="2.8" fill="none"/>
<circle cx="325.7" cy="648.6" r="4.2" fill="none" stroke="#ff0000" stroke-width="2.3"/>
<text transform="translate(347.5 654.7) scale(0.93 1)" class="g">BC</text>
<path d="M306.7 669.1H344.7" stroke="#12ee12" stroke-width="2.8" fill="none"/>
<circle cx="325.7" cy="669.1" r="4.2" fill="none" stroke="#12ee12" stroke-width="2.3"/>
<text transform="translate(347.5 675.2) scale(0.93 1)" class="g">KS</text>
<path d="M306.7 689.5H344.7" stroke="#0000ff" stroke-width="2.8" fill="none"/>
<circle cx="325.7" cy="689.5" r="4.2" fill="none" stroke="#0000ff" stroke-width="2.3"/>
<text transform="translate(347.5 695.6) scale(0.93 1)" class="g">GLS</text>
<path d="M306.7 710H344.7" stroke="#00ffff" stroke-width="2.8" fill="none"/>
<circle cx="325.7" cy="710" r="4.2" fill="none" stroke="#00ffff" stroke-width="2.3"/>
<text transform="translate(347.5 716.1) scale(0.93 1)" class="g">LGC</text>
<path d="M306.7 730.4H344.7" stroke="#ff00ff" stroke-width="2.8" fill="none"/>
<circle cx="325.7" cy="730.4" r="4.2" fill="none" stroke="#ff00ff" stroke-width="2.3"/>
<text transform="translate(347.5 736.5) scale(0.93 1)" class="g">GGC</text>
<path d="M306.7 750.9H344.7" stroke="#ffff00" stroke-width="2.8" fill="none"/>
<circle cx="325.7" cy="750.9" r="4.2" fill="none" stroke="#ffff00" stroke-width="2.3"/>
<text transform="translate(347.5 757) scale(0.93 1)" class="g">EGM</text>
<path d="M306.7 771.3h9 M329.2 771.3h7" stroke="#0000ff" stroke-width="2.4" fill="none"/>
<circle cx="325.7" cy="771.3" r="4.2" fill="none" stroke="#0000ff" stroke-width="2.3"/>
<text transform="translate(347.5 777.4) scale(0.93 1)" class="g">ALSI</text>
<path d="M306.7 791.8H344.7" stroke="#000000" stroke-width="2.8" fill="none"/>
<circle cx="325.7" cy="791.8" r="4.2" fill="none" stroke="#000000" stroke-width="2.3"/>
<text transform="translate(347.5 797.9) scale(0.93 1)" class="g">ELSEC</text>
</g>
<g>
<path d="M484.1 626.4H844V1113.5H484.1ZM484.1 1113.5v-3.6 M484.1 626.4v3.6M544.5 1113.5v-3.6 M544.5 626.4v3.6M605.3 1113.5v-3.6 M605.3 626.4v3.6M665.7 1113.5v-3.6 M665.7 626.4v3.6M726.8 1113.5v-3.6 M726.8 626.4v3.6M787.2 1113.5v-3.6 M787.2 626.4v3.6M844 1113.5v-3.6 M844 626.4v3.6M484.1 1092.4h3.6 M844 1092.4h-3.6M484.1 1048.2h3.6 M844 1048.2h-3.6M484.1 1004h3.6 M844 1004h-3.6M484.1 959.7h3.6 M844 959.7h-3.6M484.1 915.5h3.6 M844 915.5h-3.6M484.1 871.3h3.6 M844 871.3h-3.6M484.1 827h3.6 M844 827h-3.6M484.1 782.8h3.6 M844 782.8h-3.6M484.1 738.6h3.6 M844 738.6h-3.6M484.1 694.3h3.6 M844 694.3h-3.6M484.1 650.1h3.6 M844 650.1h-3.6" class="ax"/>
<path d="M484.1 650.1H844 M484.1 1092.4H844" class="dt"/>
<polyline points="484.6,782.3 488,795 497,810 522,850 550.8,900 570.9,928.9" fill="none" stroke="#ff0000" stroke-width="10.4" stroke-linecap="round" stroke-linejoin="round"/>
<polyline points="569.2,938.9 599,980 624.3,1020 650,1055 683,1092.6" fill="none" stroke="#ff0000" stroke-width="10.4" stroke-linecap="round" stroke-linejoin="round"/>
<polyline points="484.1,650.1 484.1,757.6 484.1,829 484.1,877.8 484.1,916.2 484.1,949.6 484.1,973.9 484.1,994 484.7,1012.3 484.7,1022.3 485.7,1034 485.7,1047.4 486.7,1054 486.7,1060.7 487.4,1067.4 488.1,1074.1 489.1,1080.8 489.8,1092.4" fill="none" stroke="#12ee12" stroke-width="2" stroke-linejoin="round" stroke-dasharray="3 1.5"/>
<path d="M480.6 757.6a3.5 3.5 0 1 0 7 0a3.5 3.5 0 1 0 -7 0M480.6 829a3.5 3.5 0 1 0 7 0a3.5 3.5 0 1 0 -7 0M480.6 877.8a3.5 3.5 0 1 0 7 0a3.5 3.5 0 1 0 -7 0M480.6 916.2a3.5 3.5 0 1 0 7 0a3.5 3.5 0 1 0 -7 0M480.6 949.6a3.5 3.5 0 1 0 7 0a3.5 3.5 0 1 0 -7 0M480.6 973.9a3.5 3.5 0 1 0 7 0a3.5 3.5 0 1 0 -7 0M480.6 994a3.5 3.5 0 1 0 7 0a3.5 3.5 0 1 0 -7 0M481.2 1012.3a3.5 3.5 0 1 0 7 0a3.5 3.5 0 1 0 -7 0M481.2 1022.3a3.5 3.5 0 1 0 7 0a3.5 3.5 0 1 0 -7 0M482.2 1034a3.5 3.5 0 1 0 7 0a3.5 3.5 0 1 0 -7 0M482.2 1047.4a3.5 3.5 0 1 0 7 0a3.5 3.5 0 1 0 -7 0M483.2 1054a3.5 3.5 0 1 0 7 0a3.5 3.5 0 1 0 -7 0M483.2 1060.7a3.5 3.5 0 1 0 7 0a3.5 3.5 0 1 0 -7 0M483.9 1067.4a3.5 3.5 0 1 0 7 0a3.5 3.5 0 1 0 -7 0M484.6 1074.1a3.5 3.5 0 1 0 7 0a3.5 3.5 0 1 0 -7 0M485.6 1080.8a3.5 3.5 0 1 0 7 0a3.5 3.5 0 1 0 -7 0M486.3 1092.4a3.5 3.5 0 1 0 7 0a3.5 3.5 0 1 0 -7 0" fill="none" stroke="#12ee12" stroke-width="2.5"/>
<polyline points="484.1,655 485.5,690 489.5,730 503.5,770 524.2,810 548.5,846.8 573.1,883.6 598,920.4 623,957.3 648.3,994.1 673.8,1030.9 699.5,1067.7 714.3,1092.6" fill="none" stroke="#0000ff" stroke-width="10.4" stroke-linecap="round" stroke-linejoin="round"/>
<polyline points="492,668 500.5,684.6 510.7,704.9 520.8,721.8 529.3,738.8 537.8,755.7 548,769.2 566,800" fill="none" stroke="#00ffff" stroke-width="10.4" stroke-linecap="round" stroke-linejoin="round"/>
<polyline points="486,657 501.4,686 517.3,715.1 533.8,744.1 550.8,773.2 568.3,802.2 586.4,831.2 604.8,860.3 623.8,889.3 643.1,918.4 662.9,947.4 683,976.4 703.5,1005.5 724.3,1034.5 745.4,1063.6 766.8,1092.6" fill="none" stroke="#ff00ff" stroke-width="10.4" stroke-linecap="round" stroke-linejoin="round"/>
<polyline points="484.1,743.6 490,757 497.4,770.3" fill="none" stroke="#ffff00" stroke-width="10.4" stroke-linecap="round" stroke-linejoin="round"/>
<polyline points="484.1,655 487.5,690 494.5,730 510.5,770 533.2,810 557.5,846.8 582.1,883.6 607,920.4 632,957.3 657.3,994.1 682.8,1030.9 708.5,1067.7 722.8,1092.6" fill="none" stroke="#0000ff" stroke-width="10.4" stroke-linecap="round" stroke-linejoin="round"/>
<polyline points="497.4,770.3 504,775 524.7,810 549,846.8 573.6,883.6 598.5,920.4 623.5,957.3 648.8,994.1 674.3,1030.9 700,1067.7 710,1087" fill="none" stroke="#ffff00" stroke-width="1.6"/>
<polyline points="484.1,650.1 503.5,678.2 522,706.2 539.9,734.3 557.4,762.3 574.5,790.4 591.6,818.5 608.7,846.5 626,874.6 643.8,902.6 662.1,930.7 681.2,958.8 701.2,986.8 722.3,1014.9 744.7,1042.9 768.5,1071 777.8,1092.6" fill="none" stroke="#000000" stroke-width="11" stroke-linecap="round" stroke-linejoin="round"/>
<text transform="translate(484.1 1138.4) scale(0.955 1)" class="t m">0</text>
<text transform="translate(544.5 1138.4) scale(0.955 1)" class="t m">400</text>
<text transform="translate(605.3 1138.4) scale(0.955 1)" class="t m">800</text>
<text transform="translate(665.7 1138.4) scale(0.955 1)" class="t m">1200</text>
<text transform="translate(726.8 1138.4) scale(0.955 1)" class="t m">1600</text>
<text transform="translate(787.2 1138.4) scale(0.955 1)" class="t m">2000</text>
<text transform="translate(844 1138.4) scale(0.955 1)" class="t m">2375</text>
<text transform="translate(477.5 1099.7) scale(0.955 1)" class="t e">0</text>
<text transform="translate(477.5 1055.5) scale(0.955 1)" class="t e">0.1</text>
<text transform="translate(477.5 1011.3) scale(0.955 1)" class="t e">0.2</text>
<text transform="translate(477.5 967) scale(0.955 1)" class="t e">0.3</text>
<text transform="translate(477.5 922.8) scale(0.955 1)" class="t e">0.4</text>
<text transform="translate(477.5 878.6) scale(0.955 1)" class="t e">0.5</text>
<text transform="translate(477.5 834.3) scale(0.955 1)" class="t e">0.6</text>
<text transform="translate(477.5 790.1) scale(0.955 1)" class="t e">0.7</text>
<text transform="translate(477.5 745.9) scale(0.955 1)" class="t e">0.8</text>
<text transform="translate(477.5 701.6) scale(0.955 1)" class="t e">0.9</text>
<text transform="translate(477.5 657.4) scale(0.955 1)" class="t e">1</text>
<text x="664" y="1163" class="l m">rank</text>
<text transform="translate(444 869.9) rotate(-90)" class="l m">CCDF</text>
<text x="664" y="619.9" class="l m">Yeast</text>
<rect x="731.1" y="636.7" width="101.8" height="166.9" fill="#fff" stroke="#262626" stroke-width="1"/>
<path d="M735.7 648.6H773.7" stroke="#ff0000" stroke-width="2.8" fill="none"/>
<circle cx="754.7" cy="648.6" r="4.2" fill="none" stroke="#ff0000" stroke-width="2.3"/>
<text transform="translate(776.5 654.7) scale(0.93 1)" class="g">BC</text>
<path d="M735.7 669.1H773.7" stroke="#12ee12" stroke-width="2.8" fill="none"/>
<circle cx="754.7" cy="669.1" r="4.2" fill="none" stroke="#12ee12" stroke-width="2.3"/>
<text transform="translate(776.5 675.2) scale(0.93 1)" class="g">KS</text>
<path d="M735.7 689.5H773.7" stroke="#0000ff" stroke-width="2.8" fill="none"/>
<circle cx="754.7" cy="689.5" r="4.2" fill="none" stroke="#0000ff" stroke-width="2.3"/>
<text transform="translate(776.5 695.6) scale(0.93 1)" class="g">GLS</text>
<path d="M735.7 710H773.7" stroke="#00ffff" stroke-width="2.8" fill="none"/>
<circle cx="754.7" cy="710" r="4.2" fill="none" stroke="#00ffff" stroke-width="2.3"/>
<text transform="translate(776.5 716.1) scale(0.93 1)" class="g">LGC</text>
<path d="M735.7 730.4H773.7" stroke="#ff00ff" stroke-width="2.8" fill="none"/>
<circle cx="754.7" cy="730.4" r="4.2" fill="none" stroke="#ff00ff" stroke-width="2.3"/>
<text transform="translate(776.5 736.5) scale(0.93 1)" class="g">GGC</text>
<path d="M735.7 750.9H773.7" stroke="#ffff00" stroke-width="2.8" fill="none"/>
<circle cx="754.7" cy="750.9" r="4.2" fill="none" stroke="#ffff00" stroke-width="2.3"/>
<text transform="translate(776.5 757) scale(0.93 1)" class="g">EGM</text>
<path d="M735.7 771.3h9 M758.2 771.3h7" stroke="#0000ff" stroke-width="2.4" fill="none"/>
<circle cx="754.7" cy="771.3" r="4.2" fill="none" stroke="#0000ff" stroke-width="2.3"/>
<text transform="translate(776.5 777.4) scale(0.93 1)" class="g">ALSI</text>
<path d="M735.7 791.8H773.7" stroke="#000000" stroke-width="2.8" fill="none"/>
<circle cx="754.7" cy="791.8" r="4.2" fill="none" stroke="#000000" stroke-width="2.3"/>
<text transform="translate(776.5 797.9) scale(0.93 1)" class="g">ELSEC</text>
</g>
<g>
<path d="M915.4 626.4H1276V1113.5H915.4ZM915.4 1113.5v-3.6 M915.4 626.4v3.6M974.5 1113.5v-3.6 M974.5 626.4v3.6M1033.6 1113.5v-3.6 M1033.6 626.4v3.6M1093 1113.5v-3.6 M1093 626.4v3.6M1152.4 1113.5v-3.6 M1152.4 626.4v3.6M1211.9 1113.5v-3.6 M1211.9 626.4v3.6M1276 1113.5v-3.6 M1276 626.4v3.6M915.4 1089.1h3.6 M1276 1089.1h-3.6M915.4 1044.7h3.6 M1276 1044.7h-3.6M915.4 1000.3h3.6 M1276 1000.3h-3.6M915.4 955.9h3.6 M1276 955.9h-3.6M915.4 911.5h3.6 M1276 911.5h-3.6M915.4 867.1h3.6 M1276 867.1h-3.6M915.4 822.7h3.6 M1276 822.7h-3.6M915.4 778.3h3.6 M1276 778.3h-3.6M915.4 733.9h3.6 M1276 733.9h-3.6M915.4 689.5h3.6 M1276 689.5h-3.6M915.4 645.1h3.6 M1276 645.1h-3.6" class="ax"/>
<path d="M915.4 645.1H1276 M915.4 1089.1H1276" class="dt"/>
<polyline points="915.4,820.4 919.4,833.7 932.8,853.7 946.1,873.8 959.5,892.1 972.8,910.5 986.2,927.2 999.5,943.9 1012.9,962.2 1026.2,978.9 1032.9,990.6 1036.3,1002.3 1046.3,1017.3 1059.6,1034 1073,1052.4 1086.3,1067.4 1103,1089.1" fill="none" stroke="#ff0000" stroke-width="10.4" stroke-linecap="round" stroke-linejoin="round"/>
<polyline points="915.4,749.2 915.4,782.6 915.4,823.7 915.4,853.7 915.4,879.4 915.4,899.5 915.4,918.8 915.4,928.9 916.1,948.2 916.1,957.2 916.7,980.6 916.7,988.9 916.7,1000.6 917.1,1011.6 917.1,1034 917.7,1039 917.7,1045.7 918.4,1057.4 918.4,1069.1 918.7,1084.1 918.7,1089.1" fill="none" stroke="#12ee12" stroke-width="2" stroke-linejoin="round" stroke-dasharray="3 1.5"/>
<path d="M911.9 749.2a3.5 3.5 0 1 0 7 0a3.5 3.5 0 1 0 -7 0M911.9 782.6a3.5 3.5 0 1 0 7 0a3.5 3.5 0 1 0 -7 0M911.9 823.7a3.5 3.5 0 1 0 7 0a3.5 3.5 0 1 0 -7 0M911.9 853.7a3.5 3.5 0 1 0 7 0a3.5 3.5 0 1 0 -7 0M911.9 879.4a3.5 3.5 0 1 0 7 0a3.5 3.5 0 1 0 -7 0M911.9 899.5a3.5 3.5 0 1 0 7 0a3.5 3.5 0 1 0 -7 0M911.9 918.8a3.5 3.5 0 1 0 7 0a3.5 3.5 0 1 0 -7 0M911.9 928.9a3.5 3.5 0 1 0 7 0a3.5 3.5 0 1 0 -7 0M912.6 948.2a3.5 3.5 0 1 0 7 0a3.5 3.5 0 1 0 -7 0M912.6 957.2a3.5 3.5 0 1 0 7 0a3.5 3.5 0 1 0 -7 0M913.2 980.6a3.5 3.5 0 1 0 7 0a3.5 3.5 0 1 0 -7 0M913.2 988.9a3.5 3.5 0 1 0 7 0a3.5 3.5 0 1 0 -7 0M913.2 1000.6a3.5 3.5 0 1 0 7 0a3.5 3.5 0 1 0 -7 0M913.6 1011.6a3.5 3.5 0 1 0 7 0a3.5 3.5 0 1 0 -7 0M913.6 1034a3.5 3.5 0 1 0 7 0a3.5 3.5 0 1 0 -7 0M914.2 1039a3.5 3.5 0 1 0 7 0a3.5 3.5 0 1 0 -7 0M914.2 1045.7a3.5 3.5 0 1 0 7 0a3.5 3.5 0 1 0 -7 0M914.9 1057.4a3.5 3.5 0 1 0 7 0a3.5 3.5 0 1 0 -7 0M914.9 1069.1a3.5 3.5 0 1 0 7 0a3.5 3.5 0 1 0 -7 0M915.2 1084.1a3.5 3.5 0 1 0 7 0a3.5 3.5 0 1 0 -7 0M915.2 1089.1a3.5 3.5 0 1 0 7 0a3.5 3.5 0 1 0 -7 0" fill="none" stroke="#12ee12" stroke-width="2.5"/>
<polyline points="962.8,780.3 982.8,817 999.5,847.1 1016.2,873.8 1032.9,900.5 1049.6,927.2 1066.3,957.2 1083,983.9 1099.7,1007.3 1133.1,1049 1161.5,1089.1" fill="none" stroke="#00ffff" stroke-width="10.4" stroke-linecap="round" stroke-linejoin="round"/>
<polyline points="915.4,661.1 915.4,666.1" fill="none" stroke="#ff00ff" stroke-width="10.4" stroke-linecap="round" stroke-linejoin="round"/>
<polyline points="916.4,707.5 922.8,723.5 932.8,743.6 949.5,770.3 956.1,783.6 976.2,820.4 999.5,863.8 1032.9,915.5 1053,947.2 1069.6,967.2 1083,990.6 1099.7,1010.6 1133.1,1050.7 1163.1,1089.1" fill="none" stroke="#ff00ff" stroke-width="10.4" stroke-linecap="round" stroke-linejoin="round"/>
<polyline points="915.4,706.8 916.1,723.5 919.4,736.9 932.8,766.9 949.5,797 966.2,825.4 982.8,853.7 999.5,880.4 1016.2,905.5 1032.9,930.5 1046.3,950.6 1056.3,970.6 1066.3,983.9 1083,1005.6 1099.7,1027.3 1116.4,1047.4 1133.1,1070.7 1148.1,1089.1" fill="none" stroke="#ffff00" stroke-width="10.4" stroke-linecap="round" stroke-linejoin="round"/>
<polyline points="915.4,674.1 916.1,687.5 926.8,702.8" fill="none" stroke="#0000ff" stroke-width="12.5" stroke-linecap="round" stroke-linejoin="round"/>
<polyline points="926.1,716.9 944.5,743.6" fill="none" stroke="#0000ff" stroke-width="10.4" stroke-linecap="round" stroke-linejoin="round"/>
<polyline points="942.8,753.6 961.1,775.3" fill="none" stroke="#0000ff" stroke-width="10.4" stroke-linecap="round" stroke-linejoin="round"/>
<polyline points="961.1,787 976.2,817 999.5,863.8 1016.2,890.5 1032.9,913.8 1042.9,930.5 1053,950.6 1066.3,977.3 1083,1000.6 1099.7,1024 1116.4,1044 1133.1,1067.4 1153.1,1089.1" fill="none" stroke="#0000ff" stroke-width="10.4" stroke-linecap="round" stroke-linejoin="round"/>
<polyline points="915.4,654.4 1262.6,1089.1" fill="none" stroke="#000000" stroke-width="10.4" stroke-linecap="round" stroke-linejoin="round"/>
<path d="M911.9 645.1a3.5 3.5 0 1 0 7 0a3.5 3.5 0 1 0 -7 0" fill="none" stroke="#000000" stroke-width="2.5"/>
<text transform="translate(915.4 1138.4) scale(0.955 1)" class="t m">0</text>
<text transform="translate(974.5 1138.4) scale(0.955 1)" class="t m">400</text>
<text transform="translate(1033.6 1138.4) scale(0.955 1)" class="t m">800</text>
<text transform="translate(1093 1138.4) scale(0.955 1)" class="t m">1200</text>
<text transform="translate(1152.4 1138.4) scale(0.955 1)" class="t m">1600</text>
<text transform="translate(1211.9 1138.4) scale(0.955 1)" class="t m">2000</text>
<text transform="translate(1276 1138.4) scale(0.955 1)" class="t m">2426</text>
<text transform="translate(908.8 1096.4) scale(0.955 1)" class="t e">0</text>
<text transform="translate(908.8 1052) scale(0.955 1)" class="t e">0.1</text>
<text transform="translate(908.8 1007.6) scale(0.955 1)" class="t e">0.2</text>
<text transform="translate(908.8 963.2) scale(0.955 1)" class="t e">0.3</text>
<text transform="translate(908.8 918.8) scale(0.955 1)" class="t e">0.4</text>
<text transform="translate(908.8 874.4) scale(0.955 1)" class="t e">0.5</text>
<text transform="translate(908.8 830) scale(0.955 1)" class="t e">0.6</text>
<text transform="translate(908.8 785.6) scale(0.955 1)" class="t e">0.7</text>
<text transform="translate(908.8 741.2) scale(0.955 1)" class="t e">0.8</text>
<text transform="translate(908.8 696.8) scale(0.955 1)" class="t e">0.9</text>
<text transform="translate(908.8 652.4) scale(0.955 1)" class="t e">1</text>
<text x="1095.7" y="1163" class="l m">rank</text>
<text transform="translate(877.4 869.9) rotate(-90)" class="l m">CCDF</text>
<text x="1095.7" y="619.9" class="l m">Hamster</text>
<rect x="1162.1" y="635.7" width="101.8" height="166.9" fill="#fff" stroke="#262626" stroke-width="1"/>
<path d="M1166.7 647.6H1204.7" stroke="#ff0000" stroke-width="2.8" fill="none"/>
<circle cx="1185.7" cy="647.6" r="4.2" fill="none" stroke="#ff0000" stroke-width="2.3"/>
<text transform="translate(1207.5 653.7) scale(0.93 1)" class="g">BC</text>
<path d="M1166.7 668.1H1204.7" stroke="#12ee12" stroke-width="2.8" fill="none"/>
<circle cx="1185.7" cy="668.1" r="4.2" fill="none" stroke="#12ee12" stroke-width="2.3"/>
<text transform="translate(1207.5 674.2) scale(0.93 1)" class="g">KS</text>
<path d="M1166.7 688.5H1204.7" stroke="#0000ff" stroke-width="2.8" fill="none"/>
<circle cx="1185.7" cy="688.5" r="4.2" fill="none" stroke="#0000ff" stroke-width="2.3"/>
<text transform="translate(1207.5 694.6) scale(0.93 1)" class="g">GLS</text>
<path d="M1166.7 709H1204.7" stroke="#00ffff" stroke-width="2.8" fill="none"/>
<circle cx="1185.7" cy="709" r="4.2" fill="none" stroke="#00ffff" stroke-width="2.3"/>
<text transform="translate(1207.5 715.1) scale(0.93 1)" class="g">LGC</text>
<path d="M1166.7 729.4H1204.7" stroke="#ff00ff" stroke-width="2.8" fill="none"/>
<circle cx="1185.7" cy="729.4" r="4.2" fill="none" stroke="#ff00ff" stroke-width="2.3"/>
<text transform="translate(1207.5 735.5) scale(0.93 1)" class="g">GGC</text>
<path d="M1166.7 749.9H1204.7" stroke="#ffff00" stroke-width="2.8" fill="none"/>
<circle cx="1185.7" cy="749.9" r="4.2" fill="none" stroke="#ffff00" stroke-width="2.3"/>
<text transform="translate(1207.5 756) scale(0.93 1)" class="g">EGM</text>
<path d="M1166.7 770.3h9 M1189.2 770.3h7" stroke="#0000ff" stroke-width="2.4" fill="none"/>
<circle cx="1185.7" cy="770.3" r="4.2" fill="none" stroke="#0000ff" stroke-width="2.3"/>
<text transform="translate(1207.5 776.4) scale(0.93 1)" class="g">ALSI</text>
<path d="M1166.7 790.8H1204.7" stroke="#000000" stroke-width="2.8" fill="none"/>
<circle cx="1185.7" cy="790.8" r="4.2" fill="none" stroke="#000000" stroke-width="2.3"/>
<text transform="translate(1207.5 796.9) scale(0.93 1)" class="g">ELSEC</text>
</g>
<g>
<path d="M55.1 1228.1H415.6V1696.5H55.1ZM55.1 1696.5v-3.6 M55.1 1228.1v3.6M113.5 1696.5v-3.6 M113.5 1228.1v3.6M171.9 1696.5v-3.6 M171.9 1228.1v3.6M230.4 1696.5v-3.6 M230.4 1228.1v3.6M288.8 1696.5v-3.6 M288.8 1228.1v3.6M347.2 1696.5v-3.6 M347.2 1228.1v3.6M55.1 1672.1h3.6 M415.6 1672.1h-3.6M55.1 1629.4h3.6 M415.6 1629.4h-3.6M55.1 1586.8h3.6 M415.6 1586.8h-3.6M55.1 1544.1h3.6 M415.6 1544.1h-3.6M55.1 1501.4h3.6 M415.6 1501.4h-3.6M55.1 1458.8h3.6 M415.6 1458.8h-3.6M55.1 1416.1h3.6 M415.6 1416.1h-3.6M55.1 1373.4h3.6 M415.6 1373.4h-3.6M55.1 1330.8h3.6 M415.6 1330.8h-3.6M55.1 1288.1h3.6 M415.6 1288.1h-3.6M55.1 1245.5h3.6 M415.6 1245.5h-3.6" class="ax"/>
<path d="M55.1 1245.5H415.6 M55.1 1672.1H415.6" class="dt"/>
<polyline points="53,1369.5 66.8,1385 100,1425 116.9,1450.2" fill="none" stroke="#ff0000" stroke-width="10.4" stroke-linecap="round" stroke-linejoin="round"/>
<polyline points="116.9,1450.2 116.9,1465.4" fill="none" stroke="#ff0000" stroke-width="2"/>
<polyline points="116.9,1465.4 133.5,1488.5 150.2,1508.5 150.2,1520.2 171.9,1545.2 171.9,1552 185,1567 196,1582 214.5,1605 241.5,1640 269.9,1672.4" fill="none" stroke="#ff0000" stroke-width="10.4" stroke-linecap="round" stroke-linejoin="round"/>
<polyline points="55.1,1382.7 55.1,1652.1 55.1,1668.8 55.1,1672.1" fill="none" stroke="#12ee12" stroke-width="2" stroke-linejoin="round" stroke-dasharray="3 1.5"/>
<path d="M51.6 1382.7a3.5 3.5 0 1 0 7 0a3.5 3.5 0 1 0 -7 0M51.6 1652.1a3.5 3.5 0 1 0 7 0a3.5 3.5 0 1 0 -7 0M51.6 1668.8a3.5 3.5 0 1 0 7 0a3.5 3.5 0 1 0 -7 0M51.6 1672.1a3.5 3.5 0 1 0 7 0a3.5 3.5 0 1 0 -7 0" fill="none" stroke="#12ee12" stroke-width="2.5"/>
<polyline points="61.4,1475.1 62.8,1488.5 66.1,1505.2 69.1,1535.2 74.1,1568.6 82.8,1598.7 99.5,1628.7 112.8,1648.7 126.2,1672.1" fill="none" stroke="#0000ff" stroke-width="10.4" stroke-linecap="round" stroke-linejoin="round"/>
<polyline points="91.7,1311.1 116.2,1343.9 141.1,1376.8" fill="none" stroke="#00ffff" stroke-width="10.4" stroke-linecap="round" stroke-linejoin="round"/>
<polyline points="55.1,1245.5 73.7,1278.3 94,1311.1 118.5,1343.9 143.4,1376.8 168.6,1409.6 194.1,1442.4 219.9,1475.2 246.2,1508 273,1540.8 300,1573.7 327.4,1606.5 354.9,1639.3 382.9,1672.1" fill="none" stroke="#ff00ff" stroke-width="10.4" stroke-linecap="round" stroke-linejoin="round"/>
<polyline points="58.5,1357 62,1363.5 143.2,1460 230,1565 300,1648 318.8,1672.1" fill="none" stroke="#ffff00" stroke-width="10.4" stroke-linecap="round" stroke-linejoin="round"/>
<polyline points="55.4,1324.9 56.8,1368.3 58.8,1435.1 61.4,1475.1" fill="none" stroke="#0000ff" stroke-width="9.5" stroke-linecap="round" stroke-linejoin="round"/>
<polyline points="62.1,1478.5 64.8,1488.5 68.8,1501.8 73.1,1515.2 77.8,1551.9 87.5,1582 97.5,1608.7 110.8,1628.7 127.5,1648.7 143.6,1672.1" fill="none" stroke="#0000ff" stroke-width="10.4" stroke-linecap="round" stroke-linejoin="round"/>
<path d="M52.1 1262a3.4 3.4 0 1 0 6.8 0a3.4 3.4 0 1 0 -6.8 0M52.1 1265.4a3.4 3.4 0 1 0 6.8 0a3.4 3.4 0 1 0 -6.8 0M52.1 1268.8a3.4 3.4 0 1 0 6.8 0a3.4 3.4 0 1 0 -6.8 0M52.1 1272.2a3.4 3.4 0 1 0 6.8 0a3.4 3.4 0 1 0 -6.8 0M52.1 1275.6a3.4 3.4 0 1 0 6.8 0a3.4 3.4 0 1 0 -6.8 0M52.1 1279a3.4 3.4 0 1 0 6.8 0a3.4 3.4 0 1 0 -6.8 0M52.1 1282.4a3.4 3.4 0 1 0 6.8 0a3.4 3.4 0 1 0 -6.8 0M52.1 1285.8a3.4 3.4 0 1 0 6.8 0a3.4 3.4 0 1 0 -6.8 0M52.1 1289.2a3.4 3.4 0 1 0 6.8 0a3.4 3.4 0 1 0 -6.8 0M52.1 1292.6a3.4 3.4 0 1 0 6.8 0a3.4 3.4 0 1 0 -6.8 0M52.1 1296a3.4 3.4 0 1 0 6.8 0a3.4 3.4 0 1 0 -6.8 0M52.1 1299.4a3.4 3.4 0 1 0 6.8 0a3.4 3.4 0 1 0 -6.8 0M52.1 1302.8a3.4 3.4 0 1 0 6.8 0a3.4 3.4 0 1 0 -6.8 0M52.1 1306.2a3.4 3.4 0 1 0 6.8 0a3.4 3.4 0 1 0 -6.8 0M52.1 1309.6a3.4 3.4 0 1 0 6.8 0a3.4 3.4 0 1 0 -6.8 0M52.1 1313a3.4 3.4 0 1 0 6.8 0a3.4 3.4 0 1 0 -6.8 0M52.1 1316.4a3.4 3.4 0 1 0 6.8 0a3.4 3.4 0 1 0 -6.8 0M52.1 1319.8a3.4 3.4 0 1 0 6.8 0a3.4 3.4 0 1 0 -6.8 0M52.1 1323.2a3.4 3.4 0 1 0 6.8 0a3.4 3.4 0 1 0 -6.8 0M52.1 1326.6a3.4 3.4 0 1 0 6.8 0a3.4 3.4 0 1 0 -6.8 0M52.1 1330a3.4 3.4 0 1 0 6.8 0a3.4 3.4 0 1 0 -6.8 0M52.1 1333.4a3.4 3.4 0 1 0 6.8 0a3.4 3.4 0 1 0 -6.8 0M52.1 1336.8a3.4 3.4 0 1 0 6.8 0a3.4 3.4 0 1 0 -6.8 0M52.1 1340.2a3.4 3.4 0 1 0 6.8 0a3.4 3.4 0 1 0 -6.8 0" fill="none" stroke="#0000ff" stroke-width="2.2"/>
<polyline points="55.1,1245.5 79,1278.3 103.3,1311.1 127.8,1343.9 152.7,1376.8 177.9,1409.6 203.4,1442.4 229.2,1475.2 255.3,1508 281.8,1540.8 308.5,1573.7 335.6,1606.5 362.9,1639.3 390.6,1672.1" fill="none" stroke="#000000" stroke-width="11" stroke-linecap="round" stroke-linejoin="round"/>
<text transform="translate(55.1 1721.4) scale(0.955 1)" class="t m">0</text>
<text transform="translate(113.5 1721.4) scale(0.955 1)" class="t m">800</text>
<text transform="translate(171.9 1721.4) scale(0.955 1)" class="t m">1600</text>
<text transform="translate(230.4 1721.4) scale(0.955 1)" class="t m">2400</text>
<text transform="translate(288.8 1721.4) scale(0.955 1)" class="t m">3200</text>
<text transform="translate(347.2 1721.4) scale(0.955 1)" class="t m">4000</text>
<text transform="translate(48.5 1679.4) scale(0.955 1)" class="t e">0</text>
<text transform="translate(48.5 1636.7) scale(0.955 1)" class="t e">0.1</text>
<text transform="translate(48.5 1594.1) scale(0.955 1)" class="t e">0.2</text>
<text transform="translate(48.5 1551.4) scale(0.955 1)" class="t e">0.3</text>
<text transform="translate(48.5 1508.7) scale(0.955 1)" class="t e">0.4</text>
<text transform="translate(48.5 1466.1) scale(0.955 1)" class="t e">0.5</text>
<text transform="translate(48.5 1423.4) scale(0.955 1)" class="t e">0.6</text>
<text transform="translate(48.5 1380.7) scale(0.955 1)" class="t e">0.7</text>
<text transform="translate(48.5 1338.1) scale(0.955 1)" class="t e">0.8</text>
<text transform="translate(48.5 1295.4) scale(0.955 1)" class="t e">0.9</text>
<text transform="translate(48.5 1252.8) scale(0.955 1)" class="t e">1</text>
<text x="235.4" y="1746" class="l m">rank</text>
<text transform="translate(15 1462.3) rotate(-90)" class="l m">CCDF</text>
<text x="235.4" y="1221.6" class="l m">PowerGrid</text>
<rect x="300.5" y="1239.1" width="101.8" height="166.6" fill="#fff" stroke="#262626" stroke-width="1"/>
<path d="M305.1 1251H343.1" stroke="#ff0000" stroke-width="2.8" fill="none"/>
<circle cx="324.1" cy="1251" r="4.2" fill="none" stroke="#ff0000" stroke-width="2.3"/>
<text transform="translate(345.9 1257.1) scale(0.93 1)" class="g">BC</text>
<path d="M305.1 1271.4H343.1" stroke="#12ee12" stroke-width="2.8" fill="none"/>
<circle cx="324.1" cy="1271.4" r="4.2" fill="none" stroke="#12ee12" stroke-width="2.3"/>
<text transform="translate(345.9 1277.5) scale(0.93 1)" class="g">KS</text>
<path d="M305.1 1291.8H343.1" stroke="#0000ff" stroke-width="2.8" fill="none"/>
<circle cx="324.1" cy="1291.8" r="4.2" fill="none" stroke="#0000ff" stroke-width="2.3"/>
<text transform="translate(345.9 1297.9) scale(0.93 1)" class="g">GLS</text>
<path d="M305.1 1312.2H343.1" stroke="#00ffff" stroke-width="2.8" fill="none"/>
<circle cx="324.1" cy="1312.2" r="4.2" fill="none" stroke="#00ffff" stroke-width="2.3"/>
<text transform="translate(345.9 1318.3) scale(0.93 1)" class="g">LGC</text>
<path d="M305.1 1332.6H343.1" stroke="#ff00ff" stroke-width="2.8" fill="none"/>
<circle cx="324.1" cy="1332.6" r="4.2" fill="none" stroke="#ff00ff" stroke-width="2.3"/>
<text transform="translate(345.9 1338.7) scale(0.93 1)" class="g">GGC</text>
<path d="M305.1 1353H343.1" stroke="#ffff00" stroke-width="2.8" fill="none"/>
<circle cx="324.1" cy="1353" r="4.2" fill="none" stroke="#ffff00" stroke-width="2.3"/>
<text transform="translate(345.9 1359.1) scale(0.93 1)" class="g">EGM</text>
<path d="M305.1 1373.4h9 M327.6 1373.4h7" stroke="#0000ff" stroke-width="2.4" fill="none"/>
<circle cx="324.1" cy="1373.4" r="4.2" fill="none" stroke="#0000ff" stroke-width="2.3"/>
<text transform="translate(345.9 1379.5) scale(0.93 1)" class="g">ALSI</text>
<path d="M305.1 1393.8H343.1" stroke="#000000" stroke-width="2.8" fill="none"/>
<circle cx="324.1" cy="1393.8" r="4.2" fill="none" stroke="#000000" stroke-width="2.3"/>
<text transform="translate(345.9 1399.9) scale(0.93 1)" class="g">ELSEC</text>
</g>
<g>
<path d="M488.1 1228.1H849V1696.5H488.1ZM488.1 1696.5v-3.6 M488.1 1228.1v3.6M548.8 1696.5v-3.6 M548.8 1228.1v3.6M609.6 1696.5v-3.6 M609.6 1228.1v3.6M670.4 1696.5v-3.6 M670.4 1228.1v3.6M731.1 1696.5v-3.6 M731.1 1228.1v3.6M791.9 1696.5v-3.6 M791.9 1228.1v3.6M849 1696.5v-3.6 M849 1228.1v3.6M488.1 1677.8h3.6 M849 1677.8h-3.6M488.1 1635.1h3.6 M849 1635.1h-3.6M488.1 1592.4h3.6 M849 1592.4h-3.6M488.1 1549.7h3.6 M849 1549.7h-3.6M488.1 1507h3.6 M849 1507h-3.6M488.1 1464.3h3.6 M849 1464.3h-3.6M488.1 1421.6h3.6 M849 1421.6h-3.6M488.1 1378.9h3.6 M849 1378.9h-3.6M488.1 1336.2h3.6 M849 1336.2h-3.6M488.1 1293.5h3.6 M849 1293.5h-3.6M488.1 1250.8h3.6 M849 1250.8h-3.6" class="ax"/>
<path d="M488.1 1250.8H849 M488.1 1677.8H849" class="dt"/>
<polyline points="485.8,1478.9 492.6,1490.8 501.1,1502.6 509.5,1511.9 519.7,1521.2 526.5,1531.4" fill="none" stroke="#ff0000" stroke-width="10.4" stroke-linecap="round" stroke-linejoin="round"/>
<polyline points="523.1,1558.5 531.5,1572 538.3,1585.5 545.1,1595.7 550.2,1609.2 556.9,1622.8 565.4,1634.6 575.5,1648.2 585.7,1661.7 597.5,1677.8" fill="none" stroke="#ff0000" stroke-width="10.4" stroke-linecap="round" stroke-linejoin="round"/>
<polyline points="488.1,1460.1 488.1,1557.9 488.1,1598.7 488.1,1616.4 488.1,1632 488.1,1642.1 488.1,1648.7 488.1,1655.4 488.1,1662.1 488.1,1668.8 488.1,1677.8" fill="none" stroke="#12ee12" stroke-width="2" stroke-linejoin="round" stroke-dasharray="3 1.5"/>
<path d="M484.6 1460.1a3.5 3.5 0 1 0 7 0a3.5 3.5 0 1 0 -7 0M484.6 1557.9a3.5 3.5 0 1 0 7 0a3.5 3.5 0 1 0 -7 0M484.6 1598.7a3.5 3.5 0 1 0 7 0a3.5 3.5 0 1 0 -7 0M484.6 1616.4a3.5 3.5 0 1 0 7 0a3.5 3.5 0 1 0 -7 0M484.6 1632a3.5 3.5 0 1 0 7 0a3.5 3.5 0 1 0 -7 0M484.6 1642.1a3.5 3.5 0 1 0 7 0a3.5 3.5 0 1 0 -7 0M484.6 1648.7a3.5 3.5 0 1 0 7 0a3.5 3.5 0 1 0 -7 0M484.6 1655.4a3.5 3.5 0 1 0 7 0a3.5 3.5 0 1 0 -7 0M484.6 1662.1a3.5 3.5 0 1 0 7 0a3.5 3.5 0 1 0 -7 0M484.6 1668.8a3.5 3.5 0 1 0 7 0a3.5 3.5 0 1 0 -7 0M484.6 1677.8a3.5 3.5 0 1 0 7 0a3.5 3.5 0 1 0 -7 0" fill="none" stroke="#12ee12" stroke-width="2.5"/>
<polyline points="488.5,1340 490,1400 492,1440 500,1480 510,1520 523,1542 535.4,1560 560.4,1598 590,1637 625.5,1677.2" fill="none" stroke="#0000ff" stroke-width="10.4" stroke-linecap="round" stroke-linejoin="round"/>
<polyline points="488.1,1256.5 517.5,1308.2 534.2,1338.3 550.8,1371.6 567.5,1401.7 574.2,1421.7 584.2,1435.1 600.9,1458.4 617.6,1481.8 622,1485 642,1518 662,1545" fill="none" stroke="#00ffff" stroke-width="10.4" stroke-linecap="round" stroke-linejoin="round"/>
<polyline points="488.1,1254.8 503,1277.1 517.4,1299.3 531.4,1321.6 544.9,1343.9 558.1,1366.1 571,1388.4 583.9,1410.6 596.7,1432.9 609.5,1455.2 622.6,1477.4 636,1499.7 649.9,1522 664.3,1544.2 679.6,1566.5 695.7,1588.7 712.9,1611 731.4,1633.3 751.3,1655.5 772.9,1677.8" fill="none" stroke="#ff00ff" stroke-width="10.4" stroke-linecap="round" stroke-linejoin="round"/>
<polyline points="488.1,1420 497,1432 513,1455 531.5,1480 560.5,1520 591.5,1560 622.5,1600 654,1639 687.7,1677.8" fill="none" stroke="#ffff00" stroke-width="10.4" stroke-linecap="round" stroke-linejoin="round"/>
<polyline points="488.5,1340 492.5,1400 497,1440 509,1480 530,1520 559,1560 587.4,1600 618,1638 651,1677.8" fill="none" stroke="#0000ff" stroke-width="10.4" stroke-linecap="round" stroke-linejoin="round"/>
<path d="M485 1271a3.4 3.4 0 1 0 6.8 0a3.4 3.4 0 1 0 -6.8 0M485 1285a3.4 3.4 0 1 0 6.8 0a3.4 3.4 0 1 0 -6.8 0M485 1293a3.4 3.4 0 1 0 6.8 0a3.4 3.4 0 1 0 -6.8 0M485 1299a3.4 3.4 0 1 0 6.8 0a3.4 3.4 0 1 0 -6.8 0M485 1307a3.4 3.4 0 1 0 6.8 0a3.4 3.4 0 1 0 -6.8 0M485 1314a3.4 3.4 0 1 0 6.8 0a3.4 3.4 0 1 0 -6.8 0M485 1323a3.4 3.4 0 1 0 6.8 0a3.4 3.4 0 1 0 -6.8 0M485.1 1330a3.4 3.4 0 1 0 6.8 0a3.4 3.4 0 1 0 -6.8 0M485.1 1333.5a3.4 3.4 0 1 0 6.8 0a3.4 3.4 0 1 0 -6.8 0M485.1 1337a3.4 3.4 0 1 0 6.8 0a3.4 3.4 0 1 0 -6.8 0M485.1 1340.5a3.4 3.4 0 1 0 6.8 0a3.4 3.4 0 1 0 -6.8 0" fill="none" stroke="#0000ff" stroke-width="2.2"/>
<polyline points="488.1,1250.8 507.4,1271.5 534.2,1314.9 567.5,1368.3 600.9,1421.7 634.3,1475.1 667.7,1525.2 701.1,1575.3 734.5,1618.7 781.2,1677.8" fill="none" stroke="#000000" stroke-width="11" stroke-linecap="round" stroke-linejoin="round"/>
<text transform="translate(488.1 1721.4) scale(0.955 1)" class="t m">0</text>
<text transform="translate(548.8 1721.4) scale(0.955 1)" class="t m">1800</text>
<text transform="translate(609.6 1721.4) scale(0.955 1)" class="t m">3600</text>
<text transform="translate(670.4 1721.4) scale(0.955 1)" class="t m">5400</text>
<text transform="translate(731.1 1721.4) scale(0.955 1)" class="t m">7200</text>
<text transform="translate(791.9 1721.4) scale(0.955 1)" class="t m">9000</text>
<text transform="translate(849 1721.4) scale(0.955 1)" class="t m">10680</text>
<text transform="translate(481.5 1685.1) scale(0.955 1)" class="t e">0</text>
<text transform="translate(481.5 1642.4) scale(0.955 1)" class="t e">0.1</text>
<text transform="translate(481.5 1599.7) scale(0.955 1)" class="t e">0.2</text>
<text transform="translate(481.5 1557) scale(0.955 1)" class="t e">0.3</text>
<text transform="translate(481.5 1514.3) scale(0.955 1)" class="t e">0.4</text>
<text transform="translate(481.5 1471.6) scale(0.955 1)" class="t e">0.5</text>
<text transform="translate(481.5 1428.9) scale(0.955 1)" class="t e">0.6</text>
<text transform="translate(481.5 1386.2) scale(0.955 1)" class="t e">0.7</text>
<text transform="translate(481.5 1343.5) scale(0.955 1)" class="t e">0.8</text>
<text transform="translate(481.5 1300.8) scale(0.955 1)" class="t e">0.9</text>
<text transform="translate(481.5 1258.1) scale(0.955 1)" class="t e">1</text>
<text x="668.5" y="1746" class="l m">rank</text>
<text transform="translate(446.7 1462.3) rotate(-90)" class="l m">CCDF</text>
<text x="668.5" y="1221.6" class="l m">PGP</text>
<rect x="734.5" y="1238.1" width="101.8" height="166.9" fill="#fff" stroke="#262626" stroke-width="1"/>
<path d="M739.1 1250H777.1" stroke="#ff0000" stroke-width="2.8" fill="none"/>
<circle cx="758.1" cy="1250" r="4.2" fill="none" stroke="#ff0000" stroke-width="2.3"/>
<text transform="translate(779.9 1256.1) scale(0.93 1)" class="g">BC</text>
<path d="M739.1 1270.5H777.1" stroke="#12ee12" stroke-width="2.8" fill="none"/>
<circle cx="758.1" cy="1270.5" r="4.2" fill="none" stroke="#12ee12" stroke-width="2.3"/>
<text transform="translate(779.9 1276.6) scale(0.93 1)" class="g">KS</text>
<path d="M739.1 1290.9H777.1" stroke="#0000ff" stroke-width="2.8" fill="none"/>
<circle cx="758.1" cy="1290.9" r="4.2" fill="none" stroke="#0000ff" stroke-width="2.3"/>
<text transform="translate(779.9 1297) scale(0.93 1)" class="g">GLS</text>
<path d="M739.1 1311.3H777.1" stroke="#00ffff" stroke-width="2.8" fill="none"/>
<circle cx="758.1" cy="1311.3" r="4.2" fill="none" stroke="#00ffff" stroke-width="2.3"/>
<text transform="translate(779.9 1317.4) scale(0.93 1)" class="g">LGC</text>
<path d="M739.1 1331.8H777.1" stroke="#ff00ff" stroke-width="2.8" fill="none"/>
<circle cx="758.1" cy="1331.8" r="4.2" fill="none" stroke="#ff00ff" stroke-width="2.3"/>
<text transform="translate(779.9 1337.9) scale(0.93 1)" class="g">GGC</text>
<path d="M739.1 1352.2H777.1" stroke="#ffff00" stroke-width="2.8" fill="none"/>
<circle cx="758.1" cy="1352.2" r="4.2" fill="none" stroke="#ffff00" stroke-width="2.3"/>
<text transform="translate(779.9 1358.3) scale(0.93 1)" class="g">EGM</text>
<path d="M739.1 1372.7h9 M761.6 1372.7h7" stroke="#0000ff" stroke-width="2.4" fill="none"/>
<circle cx="758.1" cy="1372.7" r="4.2" fill="none" stroke="#0000ff" stroke-width="2.3"/>
<text transform="translate(779.9 1378.8) scale(0.93 1)" class="g">ALSI</text>
<path d="M739.1 1393.1H777.1" stroke="#000000" stroke-width="2.8" fill="none"/>
<circle cx="758.1" cy="1393.1" r="4.2" fill="none" stroke="#000000" stroke-width="2.3"/>
<text transform="translate(779.9 1399.2) scale(0.93 1)" class="g">ELSEC</text>
</g>
<g>
<path d="M911.1 1228.1H1273.3V1696.5H911.1ZM968.2 1696.5v-3.6 M968.2 1228.1v3.6M1025.6 1696.5v-3.6 M1025.6 1228.1v3.6M1083 1696.5v-3.6 M1083 1228.1v3.6M1140.1 1696.5v-3.6 M1140.1 1228.1v3.6M1197.5 1696.5v-3.6 M1197.5 1228.1v3.6M1273.3 1696.5v-3.6 M1273.3 1228.1v3.6M911.1 1672.4h3.6 M1273.3 1672.4h-3.6M911.1 1629.9h3.6 M1273.3 1629.9h-3.6M911.1 1587.4h3.6 M1273.3 1587.4h-3.6M911.1 1544.8h3.6 M1273.3 1544.8h-3.6M911.1 1502.3h3.6 M1273.3 1502.3h-3.6M911.1 1459.8h3.6 M1273.3 1459.8h-3.6M911.1 1417.2h3.6 M1273.3 1417.2h-3.6M911.1 1374.7h3.6 M1273.3 1374.7h-3.6M911.1 1332.2h3.6 M1273.3 1332.2h-3.6M911.1 1289.7h3.6 M1273.3 1289.7h-3.6M911.1 1247.1h3.6 M1273.3 1247.1h-3.6" class="ax"/>
<path d="M911.1 1247.1H1273.3 M911.1 1672.4H1273.3" class="dt"/>
<polyline points="1007.9,1555.3 1039.6,1595.3 1106.4,1672.4" fill="none" stroke="#ff0000" stroke-width="10.4" stroke-linecap="round" stroke-linejoin="round"/>
<polyline points="911.1,1441.1 911.1,1527.6 911.1,1573.3 911.1,1605.3 911.1,1623.7 911.1,1642.1 911.1,1652.1 911.1,1658.8 911.1,1665.4 911.1,1672.4" fill="none" stroke="#12ee12" stroke-width="2" stroke-linejoin="round" stroke-dasharray="3 1.5"/>
<path d="M907.6 1441.1a3.5 3.5 0 1 0 7 0a3.5 3.5 0 1 0 -7 0M907.6 1527.6a3.5 3.5 0 1 0 7 0a3.5 3.5 0 1 0 -7 0M907.6 1573.3a3.5 3.5 0 1 0 7 0a3.5 3.5 0 1 0 -7 0M907.6 1605.3a3.5 3.5 0 1 0 7 0a3.5 3.5 0 1 0 -7 0M907.6 1623.7a3.5 3.5 0 1 0 7 0a3.5 3.5 0 1 0 -7 0M907.6 1642.1a3.5 3.5 0 1 0 7 0a3.5 3.5 0 1 0 -7 0M907.6 1652.1a3.5 3.5 0 1 0 7 0a3.5 3.5 0 1 0 -7 0M907.6 1658.8a3.5 3.5 0 1 0 7 0a3.5 3.5 0 1 0 -7 0M907.6 1665.4a3.5 3.5 0 1 0 7 0a3.5 3.5 0 1 0 -7 0M907.6 1672.4a3.5 3.5 0 1 0 7 0a3.5 3.5 0 1 0 -7 0" fill="none" stroke="#12ee12" stroke-width="2.5"/>
<polyline points="911.1,1258 912.5,1400 914,1440 918,1460 925,1478 937.8,1490 946,1510 955.5,1530 975,1553 1000,1582 1040,1627.5 1079.7,1672.5" fill="none" stroke="#0000ff" stroke-width="10.4" stroke-linecap="round" stroke-linejoin="round"/>
<polyline points="911.1,1254.8 932.8,1284.8 949.5,1311.6 966.2,1344.9 976.2,1371.6 984.8,1401.7 988.9,1425.1 1006.9,1451.1 1033.6,1480.1 1067,1522.5 1100.4,1562.6 1133.7,1602 1193.5,1672.4" fill="none" stroke="#00ffff" stroke-width="10.4" stroke-linecap="round" stroke-linejoin="round"/>
<polyline points="911.1,1254.8 932.8,1284.8 949.5,1311.6 966.2,1344.9 976.2,1371.6 986.2,1401.7 996.2,1428.4 1002.9,1448.4 1016.2,1461.8 1032.9,1481.8 1066.3,1525.2 1099.7,1565.3 1133.1,1605.3 1143.1,1615.4 1189.8,1672.4" fill="none" stroke="#ff00ff" stroke-width="10.4" stroke-linecap="round" stroke-linejoin="round"/>
<polyline points="911.1,1426.7 916.1,1435.1 932.8,1445.1 949.5,1468.5 966.2,1488.5 999.5,1528.6 1032.9,1568.6 1066.3,1608.7 1099.7,1648.7 1119.7,1672.4" fill="none" stroke="#ffff00" stroke-width="10.4" stroke-linecap="round" stroke-linejoin="round"/>
<polyline points="911.1,1258 913.2,1400 915.5,1440 920.5,1459 928.5,1475 941,1490 951.5,1508.5 962.5,1530 982.5,1553.5 1008,1583 1047,1627.8 1086.4,1672.5" fill="none" stroke="#0000ff" stroke-width="12" stroke-linecap="round" stroke-linejoin="round"/>
<polyline points="911.1,1258 914,1400 917,1440 923,1458 932,1472 944.3,1490 957,1507 969.5,1530 990,1554 1016,1584 1054,1628 1093,1672.5" fill="none" stroke="#0000ff" stroke-width="10.4" stroke-linecap="round" stroke-linejoin="round"/>
<polyline points="911.1,1247.1 926.5,1267.4 940.9,1287.6 954.5,1307.9 967.3,1328.1 979.6,1348.4 991.5,1368.6 1003.1,1388.9 1014.5,1409.1 1025.8,1429.4 1037.2,1449.6 1048.8,1469.9 1060.6,1490.1 1072.7,1510.4 1085.3,1530.6 1098.3,1550.9 1111.9,1571.1 1126.1,1591.4 1141,1611.6 1156.5,1631.9 1172.8,1652.1 1189.8,1672.4" fill="none" stroke="#000000" stroke-width="11" stroke-linecap="round" stroke-linejoin="round"/>
<text transform="translate(968.2 1721.4) scale(0.955 1)" class="t m">2500</text>
<text transform="translate(1025.6 1721.4) scale(0.955 1)" class="t m">5000</text>
<text transform="translate(1083 1721.4) scale(0.955 1)" class="t m">7500</text>
<text transform="translate(1140.1 1721.4) scale(0.955 1)" class="t m">10000</text>
<text transform="translate(1197.5 1721.4) scale(0.955 1)" class="t m">12500</text>
<text transform="translate(1273.3 1721.4) scale(0.955 1)" class="t m">15810</text>
<text transform="translate(904.5 1679.7) scale(0.955 1)" class="t e">0</text>
<text transform="translate(904.5 1637.2) scale(0.955 1)" class="t e">0.1</text>
<text transform="translate(904.5 1594.7) scale(0.955 1)" class="t e">0.2</text>
<text transform="translate(904.5 1552.1) scale(0.955 1)" class="t e">0.3</text>
<text transform="translate(904.5 1509.6) scale(0.955 1)" class="t e">0.4</text>
<text transform="translate(904.5 1467.1) scale(0.955 1)" class="t e">0.5</text>
<text transform="translate(904.5 1424.5) scale(0.955 1)" class="t e">0.6</text>
<text transform="translate(904.5 1382) scale(0.955 1)" class="t e">0.7</text>
<text transform="translate(904.5 1339.5) scale(0.955 1)" class="t e">0.8</text>
<text transform="translate(904.5 1297) scale(0.955 1)" class="t e">0.9</text>
<text transform="translate(904.5 1254.4) scale(0.955 1)" class="t e">1</text>
<text x="1092.2" y="1746" class="l m">rank</text>
<text transform="translate(871.7 1462.3) rotate(-90)" class="l m">CCDF</text>
<text x="1092.2" y="1221.6" class="l m">Sex</text>
<rect x="1160.5" y="1238.8" width="102.2" height="167.3" fill="#fff" stroke="#262626" stroke-width="1"/>
<path d="M1165.1 1250.7H1203.1" stroke="#ff0000" stroke-width="2.8" fill="none"/>
<circle cx="1184.1" cy="1250.7" r="4.2" fill="none" stroke="#ff0000" stroke-width="2.3"/>
<text transform="translate(1205.9 1256.8) scale(0.93 1)" class="g">BC</text>
<path d="M1165.1 1271.2H1203.1" stroke="#12ee12" stroke-width="2.8" fill="none"/>
<circle cx="1184.1" cy="1271.2" r="4.2" fill="none" stroke="#12ee12" stroke-width="2.3"/>
<text transform="translate(1205.9 1277.3) scale(0.93 1)" class="g">KS</text>
<path d="M1165.1 1291.7H1203.1" stroke="#0000ff" stroke-width="2.8" fill="none"/>
<circle cx="1184.1" cy="1291.7" r="4.2" fill="none" stroke="#0000ff" stroke-width="2.3"/>
<text transform="translate(1205.9 1297.8) scale(0.93 1)" class="g">GLS</text>
<path d="M1165.1 1312.2H1203.1" stroke="#00ffff" stroke-width="2.8" fill="none"/>
<circle cx="1184.1" cy="1312.2" r="4.2" fill="none" stroke="#00ffff" stroke-width="2.3"/>
<text transform="translate(1205.9 1318.3) scale(0.93 1)" class="g">LGC</text>
<path d="M1165.1 1332.7H1203.1" stroke="#ff00ff" stroke-width="2.8" fill="none"/>
<circle cx="1184.1" cy="1332.7" r="4.2" fill="none" stroke="#ff00ff" stroke-width="2.3"/>
<text transform="translate(1205.9 1338.8) scale(0.93 1)" class="g">GGC</text>
<path d="M1165.1 1353.1H1203.1" stroke="#ffff00" stroke-width="2.8" fill="none"/>
<circle cx="1184.1" cy="1353.1" r="4.2" fill="none" stroke="#ffff00" stroke-width="2.3"/>
<text transform="translate(1205.9 1359.2) scale(0.93 1)" class="g">EGM</text>
<path d="M1165.1 1373.6h9 M1187.6 1373.6h7" stroke="#0000ff" stroke-width="2.4" fill="none"/>
<circle cx="1184.1" cy="1373.6" r="4.2" fill="none" stroke="#0000ff" stroke-width="2.3"/>
<text transform="translate(1205.9 1379.7) scale(0.93 1)" class="g">ALSI</text>
<path d="M1165.1 1394.1H1203.1" stroke="#000000" stroke-width="2.8" fill="none"/>
<circle cx="1184.1" cy="1394.1" r="4.2" fill="none" stroke="#000000" stroke-width="2.3"/>
<text transform="translate(1205.9 1400.2) scale(0.93 1)" class="g">ELSEC</text>
</g>
</svg></body></html>
